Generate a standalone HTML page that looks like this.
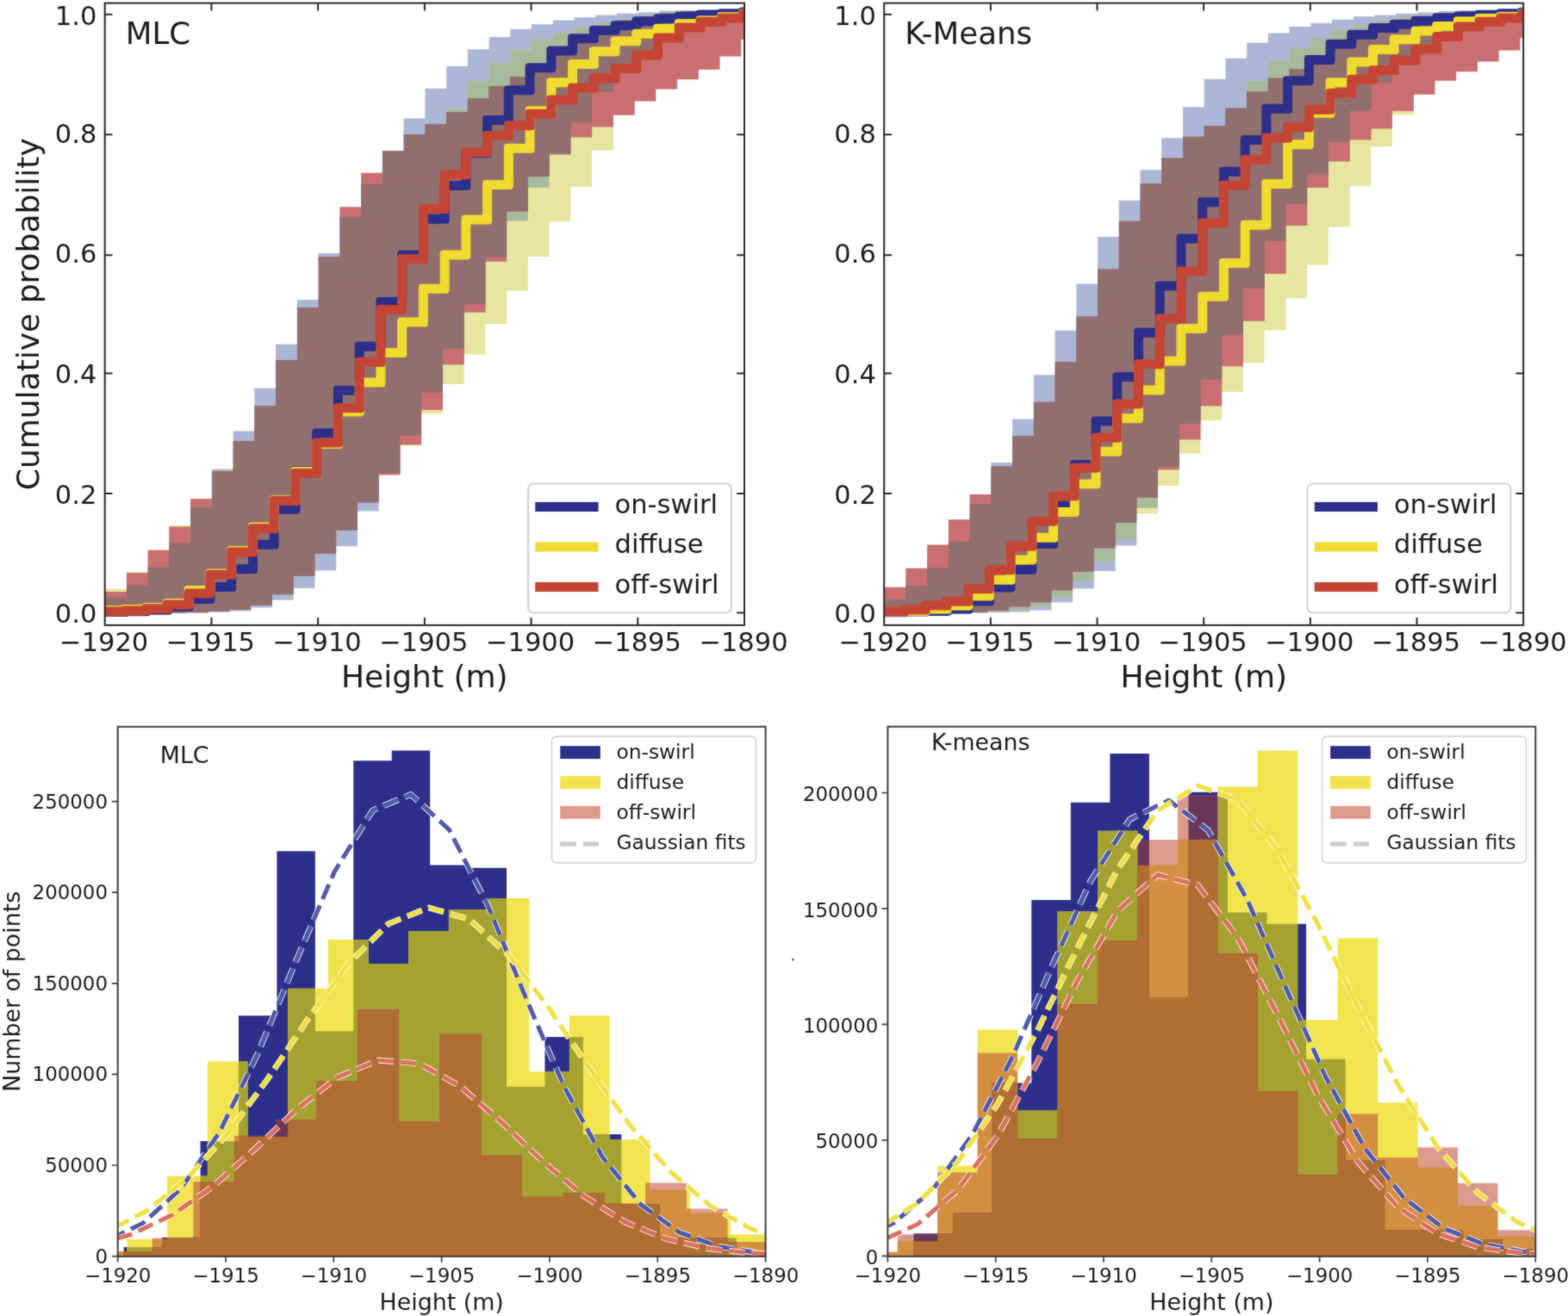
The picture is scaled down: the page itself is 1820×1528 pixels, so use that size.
<!DOCTYPE html>
<html lang="en"><head><meta charset="utf-8"><title>Height distributions: MLC and K-Means</title>
<style>html,body{margin:0;padding:0;background:#fff}body{width:1820px;height:1528px;overflow:hidden}svg{display:block}text{font-family:"DejaVu Sans", "Liberation Sans", sans-serif;fill:#1a1a1a}</style>
</head><body>
<svg xmlns="http://www.w3.org/2000/svg" width="1820" height="1528" viewBox="0 0 1820 1528">
<rect width="1820" height="1528" fill="#fff"/>
<filter id="soft" x="0" y="0" width="1820" height="1528" filterUnits="userSpaceOnUse" color-interpolation-filters="sRGB"><feGaussianBlur stdDeviation="0.8" result="b"/><feComposite in="SourceGraphic" in2="b" operator="arithmetic" k1="0" k2="0.58" k3="0.42" k4="0"/></filter>
<g filter="url(#soft)">
<rect width="1820" height="1528" fill="#fff"/>
<clipPath id="ct0"><rect x="121.7" y="3.6" width="742.3" height="722.3"/></clipPath>
<clipPath id="cb0"><path d="M-149.98 710.09 L-125.24 710.09 L-125.24 710.08 L-100.5 710.08 L-100.5 710.06 L-75.75 710.06 L-75.75 710.01 L-51.01 710.01 L-51.01 709.93 L-26.27 709.93 L-26.27 709.79 L-1.52 709.79 L-1.52 709.53 L23.22 709.53 L23.22 709.05 L47.96 709.05 L47.96 708.34 L72.71 708.34 L72.71 706.83 L97.45 706.83 L97.45 702.77 L122.19 702.77 L122.19 693.78 L146.94 693.78 L146.94 679.81 L171.68 679.81 L171.68 658.81 L196.42 658.81 L196.42 630.06 L221.17 630.06 L221.17 588.99 L245.91 588.99 L245.91 544.52 L270.65 544.52 L270.65 500.61 L295.4 500.61 L295.4 450.76 L320.14 450.76 L320.14 399.87 L344.88 399.87 L344.88 348.04 L369.63 348.04 L369.63 293.94 L394.37 293.94 L394.37 252.03 L419.11 252.03 L419.11 213.4 L443.86 213.4 L443.86 175.59 L468.6 175.59 L468.6 137.43 L493.34 137.43 L493.34 102.86 L518.09 102.86 L518.09 76.98 L542.83 76.98 L542.83 57.22 L567.57 57.22 L567.57 43.07 L592.32 43.07 L592.32 33.63 L617.06 33.63 L617.06 28.22 L641.8 28.22 L641.8 23.39 L666.55 23.39 L666.55 20.2 L691.29 20.2 L691.29 17.57 L716.03 17.57 L716.03 15.57 L740.78 15.57 L740.78 14.24 L765.52 14.24 L765.52 12.59 L790.26 12.59 L790.26 11.94 L815.01 11.94 L815.01 11.67 L839.75 11.67 L839.75 11.57 L864.49 11.57 L864.49 11.52 L889.24 11.52 L889.24 11.51 L913.98 11.51 L913.98 11.5 L938.72 11.5 L1132.47 13.93 L1107.72 13.93 L1107.72 13.94 L1082.98 13.94 L1082.98 13.96 L1058.24 13.96 L1058.24 14 L1033.49 14 L1033.49 14.11 L1008.75 14.11 L1008.75 14.39 L984.01 14.39 L984.01 15.09 L959.26 15.09 L959.26 16.75 L934.52 16.75 L934.52 18.09 L909.78 18.09 L909.78 20.12 L885.03 20.12 L885.03 22.78 L860.29 22.78 L860.29 26.03 L835.55 26.03 L835.55 30.91 L810.8 30.91 L810.8 36.45 L786.06 36.45 L786.06 46.12 L761.32 46.12 L761.32 60.53 L736.57 60.53 L736.57 80.59 L711.83 80.59 L711.83 106.85 L687.09 106.85 L687.09 141.7 L662.34 141.7 L662.34 179.92 L637.6 179.92 L637.6 217.75 L612.86 217.75 L612.86 256.49 L588.11 256.49 L588.11 298.84 L563.37 298.84 L563.37 353.11 L538.63 353.11 L538.63 404.86 L513.88 404.86 L513.88 455.71 L489.14 455.71 L489.14 505.36 L464.4 505.36 L464.4 549.16 L439.65 549.16 L439.65 593.54 L414.91 593.54 L414.91 634.17 L390.17 634.17 L390.17 662.43 L365.42 662.43 L365.42 683.07 L340.68 683.07 L340.68 696.75 L315.94 696.75 L315.94 705.5 L291.19 705.5 L291.19 709.39 L266.45 709.39 L266.45 710.83 L241.71 710.83 L241.71 711.51 L216.96 711.51 L216.96 711.98 L192.22 711.98 L192.22 712.23 L167.48 712.23 L167.48 712.37 L142.73 712.37 L142.73 712.45 L117.99 712.45 L117.99 712.49 L93.25 712.49 L93.25 712.51 L68.5 712.51 L68.5 712.53 L43.76 712.53 Z"/></clipPath>
<clipPath id="cy0"><path d="M-149.98 710.07 L-125.24 710.07 L-125.24 710.03 L-100.5 710.03 L-100.5 709.97 L-75.75 709.97 L-75.75 709.85 L-51.01 709.85 L-51.01 709.64 L-26.27 709.64 L-26.27 709.26 L-1.52 709.26 L-1.52 708.56 L23.22 708.56 L23.22 707.31 L47.96 707.31 L47.96 706.17 L72.71 706.17 L72.71 703.96 L97.45 703.96 L97.45 698.69 L122.19 698.69 L122.19 683.66 L146.94 683.66 L146.94 664.06 L171.68 664.06 L171.68 637.63 L196.42 637.63 L196.42 610.1 L221.17 610.1 L221.17 578.78 L245.91 578.78 L245.91 545.45 L270.65 545.45 L270.65 513.37 L295.4 513.37 L295.4 475.91 L320.14 475.91 L320.14 441.85 L344.88 441.85 L344.88 407.35 L369.63 407.35 L369.63 371.78 L394.37 371.78 L394.37 333.19 L419.11 333.19 L419.11 293.68 L443.86 293.68 L443.86 252.89 L468.6 252.89 L468.6 212.34 L493.34 212.34 L493.34 169.92 L518.09 169.92 L518.09 126.69 L542.83 126.69 L542.83 93.91 L567.57 93.91 L567.57 72.71 L592.32 72.71 L592.32 58.24 L617.06 58.24 L617.06 46.22 L641.8 46.22 L641.8 37.78 L666.55 37.78 L666.55 31.68 L691.29 31.68 L691.29 26.01 L716.03 26.01 L716.03 22.19 L740.78 22.19 L740.78 18.03 L765.52 18.03 L765.52 14.61 L790.26 14.61 L790.26 13.24 L815.01 13.24 L815.01 12.69 L839.75 12.69 L839.75 12.48 L864.49 12.48 L864.49 12.39 L889.24 12.39 L889.24 12.35 L913.98 12.35 L913.98 12.34 L938.72 12.34 L1132.47 14.77 L1107.72 14.77 L1107.72 14.79 L1082.98 14.79 L1082.98 14.82 L1058.24 14.82 L1058.24 14.92 L1033.49 14.92 L1033.49 15.15 L1008.75 15.15 L1008.75 15.73 L984.01 15.73 L984.01 17.17 L959.26 17.17 L959.26 20.66 L934.52 20.66 L934.52 24.82 L909.78 24.82 L909.78 28.69 L885.03 28.69 L885.03 34.41 L860.29 34.41 L860.29 40.59 L835.55 40.59 L835.55 49.18 L810.8 49.18 L810.8 61.35 L786.06 61.35 L786.06 76.08 L761.32 76.08 L761.32 97.76 L736.57 97.76 L736.57 131.09 L711.83 131.09 L711.83 174.49 L687.09 174.49 L687.09 216.83 L662.34 216.83 L662.34 257.36 L637.6 257.36 L637.6 298.12 L612.86 298.12 L612.86 337.57 L588.11 337.57 L588.11 376.05 L563.37 376.05 L563.37 411.53 L538.63 411.53 L538.63 445.99 L513.88 445.99 L513.88 480.15 L489.14 480.15 L489.14 517.51 L464.4 517.51 L464.4 549.52 L439.65 549.52 L439.65 582.82 L414.91 582.82 L414.91 613.98 L390.17 613.98 L390.17 641.4 L365.42 641.4 L365.42 667.6 L340.68 667.6 L340.68 686.93 L315.94 686.93 L315.94 701.57 L291.19 701.57 L291.19 706.56 L266.45 706.56 L266.45 708.68 L241.71 708.68 L241.71 709.8 L216.96 709.8 L216.96 711.03 L192.22 711.03 L192.22 711.71 L167.48 711.71 L167.48 712.09 L142.73 712.09 L142.73 712.29 L117.99 712.29 L117.99 712.4 L93.25 712.4 L93.25 712.47 L68.5 712.47 L68.5 712.5 L43.76 712.5 Z"/></clipPath>
<g clip-path="url(#ct0)">
<path d="M-149.98 710.09 L-125.24 710.09 L-125.24 710.08 L-100.5 710.08 L-100.5 710.06 L-75.75 710.06 L-75.75 710.01 L-51.01 710.01 L-51.01 709.93 L-26.27 709.93 L-26.27 709.79 L-1.52 709.79 L-1.52 709.53 L23.22 709.53 L23.22 709.05 L47.96 709.05 L47.96 708.34 L72.71 708.34 L72.71 706.83 L97.45 706.83 L97.45 702.77 L122.19 702.77 L122.19 693.78 L146.94 693.78 L146.94 679.81 L171.68 679.81 L171.68 658.81 L196.42 658.81 L196.42 630.06 L221.17 630.06 L221.17 588.99 L245.91 588.99 L245.91 544.52 L270.65 544.52 L270.65 500.61 L295.4 500.61 L295.4 450.76 L320.14 450.76 L320.14 399.87 L344.88 399.87 L344.88 348.04 L369.63 348.04 L369.63 293.94 L394.37 293.94 L394.37 252.03 L419.11 252.03 L419.11 213.4 L443.86 213.4 L443.86 175.59 L468.6 175.59 L468.6 137.43 L493.34 137.43 L493.34 102.86 L518.09 102.86 L518.09 76.98 L542.83 76.98 L542.83 57.22 L567.57 57.22 L567.57 43.07 L592.32 43.07 L592.32 33.63 L617.06 33.63 L617.06 28.22 L641.8 28.22 L641.8 23.39 L666.55 23.39 L666.55 20.2 L691.29 20.2 L691.29 17.57 L716.03 17.57 L716.03 15.57 L740.78 15.57 L740.78 14.24 L765.52 14.24 L765.52 12.59 L790.26 12.59 L790.26 11.94 L815.01 11.94 L815.01 11.67 L839.75 11.67 L839.75 11.57 L864.49 11.57 L864.49 11.52 L889.24 11.52 L889.24 11.51 L913.98 11.51 L913.98 11.5 L938.72 11.5 L1132.47 13.93 L1107.72 13.93 L1107.72 13.94 L1082.98 13.94 L1082.98 13.96 L1058.24 13.96 L1058.24 14 L1033.49 14 L1033.49 14.11 L1008.75 14.11 L1008.75 14.39 L984.01 14.39 L984.01 15.09 L959.26 15.09 L959.26 16.75 L934.52 16.75 L934.52 18.09 L909.78 18.09 L909.78 20.12 L885.03 20.12 L885.03 22.78 L860.29 22.78 L860.29 26.03 L835.55 26.03 L835.55 30.91 L810.8 30.91 L810.8 36.45 L786.06 36.45 L786.06 46.12 L761.32 46.12 L761.32 60.53 L736.57 60.53 L736.57 80.59 L711.83 80.59 L711.83 106.85 L687.09 106.85 L687.09 141.7 L662.34 141.7 L662.34 179.92 L637.6 179.92 L637.6 217.75 L612.86 217.75 L612.86 256.49 L588.11 256.49 L588.11 298.84 L563.37 298.84 L563.37 353.11 L538.63 353.11 L538.63 404.86 L513.88 404.86 L513.88 455.71 L489.14 455.71 L489.14 505.36 L464.4 505.36 L464.4 549.16 L439.65 549.16 L439.65 593.54 L414.91 593.54 L414.91 634.17 L390.17 634.17 L390.17 662.43 L365.42 662.43 L365.42 683.07 L340.68 683.07 L340.68 696.75 L315.94 696.75 L315.94 705.5 L291.19 705.5 L291.19 709.39 L266.45 709.39 L266.45 710.83 L241.71 710.83 L241.71 711.51 L216.96 711.51 L216.96 711.98 L192.22 711.98 L192.22 712.23 L167.48 712.23 L167.48 712.37 L142.73 712.37 L142.73 712.45 L117.99 712.45 L117.99 712.49 L93.25 712.49 L93.25 712.51 L68.5 712.51 L68.5 712.53 L43.76 712.53 Z" fill="#aab7d7"/>
<path d="M-149.98 710.07 L-125.24 710.07 L-125.24 710.03 L-100.5 710.03 L-100.5 709.97 L-75.75 709.97 L-75.75 709.85 L-51.01 709.85 L-51.01 709.64 L-26.27 709.64 L-26.27 709.26 L-1.52 709.26 L-1.52 708.56 L23.22 708.56 L23.22 707.31 L47.96 707.31 L47.96 706.17 L72.71 706.17 L72.71 703.96 L97.45 703.96 L97.45 698.69 L122.19 698.69 L122.19 683.66 L146.94 683.66 L146.94 664.06 L171.68 664.06 L171.68 637.63 L196.42 637.63 L196.42 610.1 L221.17 610.1 L221.17 578.78 L245.91 578.78 L245.91 545.45 L270.65 545.45 L270.65 513.37 L295.4 513.37 L295.4 475.91 L320.14 475.91 L320.14 441.85 L344.88 441.85 L344.88 407.35 L369.63 407.35 L369.63 371.78 L394.37 371.78 L394.37 333.19 L419.11 333.19 L419.11 293.68 L443.86 293.68 L443.86 252.89 L468.6 252.89 L468.6 212.34 L493.34 212.34 L493.34 169.92 L518.09 169.92 L518.09 126.69 L542.83 126.69 L542.83 93.91 L567.57 93.91 L567.57 72.71 L592.32 72.71 L592.32 58.24 L617.06 58.24 L617.06 46.22 L641.8 46.22 L641.8 37.78 L666.55 37.78 L666.55 31.68 L691.29 31.68 L691.29 26.01 L716.03 26.01 L716.03 22.19 L740.78 22.19 L740.78 18.03 L765.52 18.03 L765.52 14.61 L790.26 14.61 L790.26 13.24 L815.01 13.24 L815.01 12.69 L839.75 12.69 L839.75 12.48 L864.49 12.48 L864.49 12.39 L889.24 12.39 L889.24 12.35 L913.98 12.35 L913.98 12.34 L938.72 12.34 L1132.47 14.77 L1107.72 14.77 L1107.72 14.79 L1082.98 14.79 L1082.98 14.82 L1058.24 14.82 L1058.24 14.92 L1033.49 14.92 L1033.49 15.15 L1008.75 15.15 L1008.75 15.73 L984.01 15.73 L984.01 17.17 L959.26 17.17 L959.26 20.66 L934.52 20.66 L934.52 24.82 L909.78 24.82 L909.78 28.69 L885.03 28.69 L885.03 34.41 L860.29 34.41 L860.29 40.59 L835.55 40.59 L835.55 49.18 L810.8 49.18 L810.8 61.35 L786.06 61.35 L786.06 76.08 L761.32 76.08 L761.32 97.76 L736.57 97.76 L736.57 131.09 L711.83 131.09 L711.83 174.49 L687.09 174.49 L687.09 216.83 L662.34 216.83 L662.34 257.36 L637.6 257.36 L637.6 298.12 L612.86 298.12 L612.86 337.57 L588.11 337.57 L588.11 376.05 L563.37 376.05 L563.37 411.53 L538.63 411.53 L538.63 445.99 L513.88 445.99 L513.88 480.15 L489.14 480.15 L489.14 517.51 L464.4 517.51 L464.4 549.52 L439.65 549.52 L439.65 582.82 L414.91 582.82 L414.91 613.98 L390.17 613.98 L390.17 641.4 L365.42 641.4 L365.42 667.6 L340.68 667.6 L340.68 686.93 L315.94 686.93 L315.94 701.57 L291.19 701.57 L291.19 706.56 L266.45 706.56 L266.45 708.68 L241.71 708.68 L241.71 709.8 L216.96 709.8 L216.96 711.03 L192.22 711.03 L192.22 711.71 L167.48 711.71 L167.48 712.09 L142.73 712.09 L142.73 712.29 L117.99 712.29 L117.99 712.4 L93.25 712.4 L93.25 712.47 L68.5 712.47 L68.5 712.5 L43.76 712.5 Z" fill="#e6e6a0"/>
<g clip-path="url(#cb0)"><path d="M-149.98 710.07 L-125.24 710.07 L-125.24 710.03 L-100.5 710.03 L-100.5 709.97 L-75.75 709.97 L-75.75 709.85 L-51.01 709.85 L-51.01 709.64 L-26.27 709.64 L-26.27 709.26 L-1.52 709.26 L-1.52 708.56 L23.22 708.56 L23.22 707.31 L47.96 707.31 L47.96 706.17 L72.71 706.17 L72.71 703.96 L97.45 703.96 L97.45 698.69 L122.19 698.69 L122.19 683.66 L146.94 683.66 L146.94 664.06 L171.68 664.06 L171.68 637.63 L196.42 637.63 L196.42 610.1 L221.17 610.1 L221.17 578.78 L245.91 578.78 L245.91 545.45 L270.65 545.45 L270.65 513.37 L295.4 513.37 L295.4 475.91 L320.14 475.91 L320.14 441.85 L344.88 441.85 L344.88 407.35 L369.63 407.35 L369.63 371.78 L394.37 371.78 L394.37 333.19 L419.11 333.19 L419.11 293.68 L443.86 293.68 L443.86 252.89 L468.6 252.89 L468.6 212.34 L493.34 212.34 L493.34 169.92 L518.09 169.92 L518.09 126.69 L542.83 126.69 L542.83 93.91 L567.57 93.91 L567.57 72.71 L592.32 72.71 L592.32 58.24 L617.06 58.24 L617.06 46.22 L641.8 46.22 L641.8 37.78 L666.55 37.78 L666.55 31.68 L691.29 31.68 L691.29 26.01 L716.03 26.01 L716.03 22.19 L740.78 22.19 L740.78 18.03 L765.52 18.03 L765.52 14.61 L790.26 14.61 L790.26 13.24 L815.01 13.24 L815.01 12.69 L839.75 12.69 L839.75 12.48 L864.49 12.48 L864.49 12.39 L889.24 12.39 L889.24 12.35 L913.98 12.35 L913.98 12.34 L938.72 12.34 L1132.47 14.77 L1107.72 14.77 L1107.72 14.79 L1082.98 14.79 L1082.98 14.82 L1058.24 14.82 L1058.24 14.92 L1033.49 14.92 L1033.49 15.15 L1008.75 15.15 L1008.75 15.73 L984.01 15.73 L984.01 17.17 L959.26 17.17 L959.26 20.66 L934.52 20.66 L934.52 24.82 L909.78 24.82 L909.78 28.69 L885.03 28.69 L885.03 34.41 L860.29 34.41 L860.29 40.59 L835.55 40.59 L835.55 49.18 L810.8 49.18 L810.8 61.35 L786.06 61.35 L786.06 76.08 L761.32 76.08 L761.32 97.76 L736.57 97.76 L736.57 131.09 L711.83 131.09 L711.83 174.49 L687.09 174.49 L687.09 216.83 L662.34 216.83 L662.34 257.36 L637.6 257.36 L637.6 298.12 L612.86 298.12 L612.86 337.57 L588.11 337.57 L588.11 376.05 L563.37 376.05 L563.37 411.53 L538.63 411.53 L538.63 445.99 L513.88 445.99 L513.88 480.15 L489.14 480.15 L489.14 517.51 L464.4 517.51 L464.4 549.52 L439.65 549.52 L439.65 582.82 L414.91 582.82 L414.91 613.98 L390.17 613.98 L390.17 641.4 L365.42 641.4 L365.42 667.6 L340.68 667.6 L340.68 686.93 L315.94 686.93 L315.94 701.57 L291.19 701.57 L291.19 706.56 L266.45 706.56 L266.45 708.68 L241.71 708.68 L241.71 709.8 L216.96 709.8 L216.96 711.03 L192.22 711.03 L192.22 711.71 L167.48 711.71 L167.48 712.09 L142.73 712.09 L142.73 712.29 L117.99 712.29 L117.99 712.4 L93.25 712.4 L93.25 712.47 L68.5 712.47 L68.5 712.5 L43.76 712.5 Z" fill="#a8ba9c"/></g>
<path d="M-149.98 710.09 L-125.24 710.09 L-125.24 710.07 L-100.5 710.07 L-100.5 710.04 L-75.75 710.04 L-75.75 709.98 L-51.01 709.98 L-51.01 709.87 L-26.27 709.87 L-26.27 709.68 L-1.52 709.68 L-1.52 709.33 L23.22 709.33 L23.22 708.7 L47.96 708.7 L47.96 707.56 L72.71 707.56 L72.71 705.35 L97.45 705.35 L97.45 700.26 L122.19 700.26 L122.19 687.09 L146.94 687.09 L146.94 665.45 L171.68 665.45 L171.68 639.03 L196.42 639.03 L196.42 611.82 L221.17 611.82 L221.17 579.51 L245.91 579.51 L245.91 547.47 L270.65 547.47 L270.65 511.92 L295.4 511.92 L295.4 471.36 L320.14 471.36 L320.14 417.96 L344.88 417.96 L344.88 357.05 L369.63 357.05 L369.63 298.2 L394.37 298.2 L394.37 240.33 L419.11 240.33 L419.11 200.85 L443.86 200.85 L443.86 174.93 L468.6 174.93 L468.6 155.96 L493.34 155.96 L493.34 144.11 L518.09 144.11 L518.09 130.5 L542.83 130.5 L542.83 114.22 L567.57 114.22 L567.57 100.37 L592.32 100.37 L592.32 89.25 L617.06 89.25 L617.06 77.7 L641.8 77.7 L641.8 62.32 L666.55 62.32 L666.55 42.39 L691.29 42.39 L691.29 30.41 L716.03 30.41 L716.03 23.85 L740.78 23.85 L740.78 19.4 L765.52 19.4 L765.52 15.16 L790.26 15.16 L790.26 13.46 L815.01 13.46 L815.01 12.78 L839.75 12.78 L839.75 12.51 L864.49 12.51 L864.49 12.4 L889.24 12.4 L889.24 12.36 L913.98 12.36 L913.98 12.34 L938.72 12.34 L1132.47 14.77 L1107.72 14.77 L1107.72 14.79 L1082.98 14.79 L1082.98 14.84 L1058.24 14.84 L1058.24 14.95 L1033.49 14.95 L1033.49 15.24 L1008.75 15.24 L1008.75 15.96 L984.01 15.96 L984.01 17.75 L959.26 17.75 L959.26 22.05 L934.52 22.05 L934.52 26.57 L909.78 26.57 L909.78 33.33 L885.03 33.33 L885.03 45.67 L860.29 45.67 L860.29 65.61 L835.55 65.61 L835.55 80.78 L810.8 80.78 L810.8 92.24 L786.06 92.24 L786.06 103.44 L761.32 103.44 L761.32 117.42 L736.57 117.42 L736.57 133.67 L711.83 133.67 L711.83 147.17 L687.09 147.17 L687.09 159.2 L662.34 159.2 L662.34 178.52 L637.6 178.52 L637.6 205 L612.86 205 L612.86 245.3 L588.11 245.3 L588.11 303.56 L563.37 303.56 L563.37 362.49 L538.63 362.49 L538.63 423.21 L513.88 423.21 L513.88 476.06 L489.14 476.06 L489.14 516.23 L464.4 516.23 L464.4 551.57 L439.65 551.57 L439.65 583.55 L414.91 583.55 L414.91 615.71 L390.17 615.71 L390.17 642.79 L365.42 642.79 L365.42 669.06 L340.68 669.06 L340.68 690.34 L315.94 690.34 L315.94 703.1 L291.19 703.1 L291.19 707.95 L266.45 707.95 L266.45 710.07 L241.71 710.07 L241.71 711.17 L216.96 711.17 L216.96 711.79 L192.22 711.79 L192.22 712.13 L167.48 712.13 L167.48 712.31 L142.73 712.31 L142.73 712.42 L117.99 712.42 L117.99 712.47 L93.25 712.47 L93.25 712.5 L68.5 712.5 L68.5 712.52 L43.76 712.52 Z" fill="#c96f71"/>
<g clip-path="url(#cy0)"><path d="M-149.98 710.09 L-125.24 710.09 L-125.24 710.07 L-100.5 710.07 L-100.5 710.04 L-75.75 710.04 L-75.75 709.98 L-51.01 709.98 L-51.01 709.87 L-26.27 709.87 L-26.27 709.68 L-1.52 709.68 L-1.52 709.33 L23.22 709.33 L23.22 708.7 L47.96 708.7 L47.96 707.56 L72.71 707.56 L72.71 705.35 L97.45 705.35 L97.45 700.26 L122.19 700.26 L122.19 687.09 L146.94 687.09 L146.94 665.45 L171.68 665.45 L171.68 639.03 L196.42 639.03 L196.42 611.82 L221.17 611.82 L221.17 579.51 L245.91 579.51 L245.91 547.47 L270.65 547.47 L270.65 511.92 L295.4 511.92 L295.4 471.36 L320.14 471.36 L320.14 417.96 L344.88 417.96 L344.88 357.05 L369.63 357.05 L369.63 298.2 L394.37 298.2 L394.37 240.33 L419.11 240.33 L419.11 200.85 L443.86 200.85 L443.86 174.93 L468.6 174.93 L468.6 155.96 L493.34 155.96 L493.34 144.11 L518.09 144.11 L518.09 130.5 L542.83 130.5 L542.83 114.22 L567.57 114.22 L567.57 100.37 L592.32 100.37 L592.32 89.25 L617.06 89.25 L617.06 77.7 L641.8 77.7 L641.8 62.32 L666.55 62.32 L666.55 42.39 L691.29 42.39 L691.29 30.41 L716.03 30.41 L716.03 23.85 L740.78 23.85 L740.78 19.4 L765.52 19.4 L765.52 15.16 L790.26 15.16 L790.26 13.46 L815.01 13.46 L815.01 12.78 L839.75 12.78 L839.75 12.51 L864.49 12.51 L864.49 12.4 L889.24 12.4 L889.24 12.36 L913.98 12.36 L913.98 12.34 L938.72 12.34 L1132.47 14.77 L1107.72 14.77 L1107.72 14.79 L1082.98 14.79 L1082.98 14.84 L1058.24 14.84 L1058.24 14.95 L1033.49 14.95 L1033.49 15.24 L1008.75 15.24 L1008.75 15.96 L984.01 15.96 L984.01 17.75 L959.26 17.75 L959.26 22.05 L934.52 22.05 L934.52 26.57 L909.78 26.57 L909.78 33.33 L885.03 33.33 L885.03 45.67 L860.29 45.67 L860.29 65.61 L835.55 65.61 L835.55 80.78 L810.8 80.78 L810.8 92.24 L786.06 92.24 L786.06 103.44 L761.32 103.44 L761.32 117.42 L736.57 117.42 L736.57 133.67 L711.83 133.67 L711.83 147.17 L687.09 147.17 L687.09 159.2 L662.34 159.2 L662.34 178.52 L637.6 178.52 L637.6 205 L612.86 205 L612.86 245.3 L588.11 245.3 L588.11 303.56 L563.37 303.56 L563.37 362.49 L538.63 362.49 L538.63 423.21 L513.88 423.21 L513.88 476.06 L489.14 476.06 L489.14 516.23 L464.4 516.23 L464.4 551.57 L439.65 551.57 L439.65 583.55 L414.91 583.55 L414.91 615.71 L390.17 615.71 L390.17 642.79 L365.42 642.79 L365.42 669.06 L340.68 669.06 L340.68 690.34 L315.94 690.34 L315.94 703.1 L291.19 703.1 L291.19 707.95 L266.45 707.95 L266.45 710.07 L241.71 710.07 L241.71 711.17 L216.96 711.17 L216.96 711.79 L192.22 711.79 L192.22 712.13 L167.48 712.13 L167.48 712.31 L142.73 712.31 L142.73 712.42 L117.99 712.42 L117.99 712.47 L93.25 712.47 L93.25 712.5 L68.5 712.5 L68.5 712.52 L43.76 712.52 Z" fill="#c96f71"/></g>
<g clip-path="url(#cb0)"><path d="M-149.98 710.09 L-125.24 710.09 L-125.24 710.07 L-100.5 710.07 L-100.5 710.04 L-75.75 710.04 L-75.75 709.98 L-51.01 709.98 L-51.01 709.87 L-26.27 709.87 L-26.27 709.68 L-1.52 709.68 L-1.52 709.33 L23.22 709.33 L23.22 708.7 L47.96 708.7 L47.96 707.56 L72.71 707.56 L72.71 705.35 L97.45 705.35 L97.45 700.26 L122.19 700.26 L122.19 687.09 L146.94 687.09 L146.94 665.45 L171.68 665.45 L171.68 639.03 L196.42 639.03 L196.42 611.82 L221.17 611.82 L221.17 579.51 L245.91 579.51 L245.91 547.47 L270.65 547.47 L270.65 511.92 L295.4 511.92 L295.4 471.36 L320.14 471.36 L320.14 417.96 L344.88 417.96 L344.88 357.05 L369.63 357.05 L369.63 298.2 L394.37 298.2 L394.37 240.33 L419.11 240.33 L419.11 200.85 L443.86 200.85 L443.86 174.93 L468.6 174.93 L468.6 155.96 L493.34 155.96 L493.34 144.11 L518.09 144.11 L518.09 130.5 L542.83 130.5 L542.83 114.22 L567.57 114.22 L567.57 100.37 L592.32 100.37 L592.32 89.25 L617.06 89.25 L617.06 77.7 L641.8 77.7 L641.8 62.32 L666.55 62.32 L666.55 42.39 L691.29 42.39 L691.29 30.41 L716.03 30.41 L716.03 23.85 L740.78 23.85 L740.78 19.4 L765.52 19.4 L765.52 15.16 L790.26 15.16 L790.26 13.46 L815.01 13.46 L815.01 12.78 L839.75 12.78 L839.75 12.51 L864.49 12.51 L864.49 12.4 L889.24 12.4 L889.24 12.36 L913.98 12.36 L913.98 12.34 L938.72 12.34 L1132.47 14.77 L1107.72 14.77 L1107.72 14.79 L1082.98 14.79 L1082.98 14.84 L1058.24 14.84 L1058.24 14.95 L1033.49 14.95 L1033.49 15.24 L1008.75 15.24 L1008.75 15.96 L984.01 15.96 L984.01 17.75 L959.26 17.75 L959.26 22.05 L934.52 22.05 L934.52 26.57 L909.78 26.57 L909.78 33.33 L885.03 33.33 L885.03 45.67 L860.29 45.67 L860.29 65.61 L835.55 65.61 L835.55 80.78 L810.8 80.78 L810.8 92.24 L786.06 92.24 L786.06 103.44 L761.32 103.44 L761.32 117.42 L736.57 117.42 L736.57 133.67 L711.83 133.67 L711.83 147.17 L687.09 147.17 L687.09 159.2 L662.34 159.2 L662.34 178.52 L637.6 178.52 L637.6 205 L612.86 205 L612.86 245.3 L588.11 245.3 L588.11 303.56 L563.37 303.56 L563.37 362.49 L538.63 362.49 L538.63 423.21 L513.88 423.21 L513.88 476.06 L489.14 476.06 L489.14 516.23 L464.4 516.23 L464.4 551.57 L439.65 551.57 L439.65 583.55 L414.91 583.55 L414.91 615.71 L390.17 615.71 L390.17 642.79 L365.42 642.79 L365.42 669.06 L340.68 669.06 L340.68 690.34 L315.94 690.34 L315.94 703.1 L291.19 703.1 L291.19 707.95 L266.45 707.95 L266.45 710.07 L241.71 710.07 L241.71 711.17 L216.96 711.17 L216.96 711.79 L192.22 711.79 L192.22 712.13 L167.48 712.13 L167.48 712.31 L142.73 712.31 L142.73 712.42 L117.99 712.42 L117.99 712.47 L93.25 712.47 L93.25 712.5 L68.5 712.5 L68.5 712.52 L43.76 712.52 Z" fill="#926f6f"/>
<g clip-path="url(#cy0)"><path d="M-149.98 710.09 L-125.24 710.09 L-125.24 710.07 L-100.5 710.07 L-100.5 710.04 L-75.75 710.04 L-75.75 709.98 L-51.01 709.98 L-51.01 709.87 L-26.27 709.87 L-26.27 709.68 L-1.52 709.68 L-1.52 709.33 L23.22 709.33 L23.22 708.7 L47.96 708.7 L47.96 707.56 L72.71 707.56 L72.71 705.35 L97.45 705.35 L97.45 700.26 L122.19 700.26 L122.19 687.09 L146.94 687.09 L146.94 665.45 L171.68 665.45 L171.68 639.03 L196.42 639.03 L196.42 611.82 L221.17 611.82 L221.17 579.51 L245.91 579.51 L245.91 547.47 L270.65 547.47 L270.65 511.92 L295.4 511.92 L295.4 471.36 L320.14 471.36 L320.14 417.96 L344.88 417.96 L344.88 357.05 L369.63 357.05 L369.63 298.2 L394.37 298.2 L394.37 240.33 L419.11 240.33 L419.11 200.85 L443.86 200.85 L443.86 174.93 L468.6 174.93 L468.6 155.96 L493.34 155.96 L493.34 144.11 L518.09 144.11 L518.09 130.5 L542.83 130.5 L542.83 114.22 L567.57 114.22 L567.57 100.37 L592.32 100.37 L592.32 89.25 L617.06 89.25 L617.06 77.7 L641.8 77.7 L641.8 62.32 L666.55 62.32 L666.55 42.39 L691.29 42.39 L691.29 30.41 L716.03 30.41 L716.03 23.85 L740.78 23.85 L740.78 19.4 L765.52 19.4 L765.52 15.16 L790.26 15.16 L790.26 13.46 L815.01 13.46 L815.01 12.78 L839.75 12.78 L839.75 12.51 L864.49 12.51 L864.49 12.4 L889.24 12.4 L889.24 12.36 L913.98 12.36 L913.98 12.34 L938.72 12.34 L1132.47 14.77 L1107.72 14.77 L1107.72 14.79 L1082.98 14.79 L1082.98 14.84 L1058.24 14.84 L1058.24 14.95 L1033.49 14.95 L1033.49 15.24 L1008.75 15.24 L1008.75 15.96 L984.01 15.96 L984.01 17.75 L959.26 17.75 L959.26 22.05 L934.52 22.05 L934.52 26.57 L909.78 26.57 L909.78 33.33 L885.03 33.33 L885.03 45.67 L860.29 45.67 L860.29 65.61 L835.55 65.61 L835.55 80.78 L810.8 80.78 L810.8 92.24 L786.06 92.24 L786.06 103.44 L761.32 103.44 L761.32 117.42 L736.57 117.42 L736.57 133.67 L711.83 133.67 L711.83 147.17 L687.09 147.17 L687.09 159.2 L662.34 159.2 L662.34 178.52 L637.6 178.52 L637.6 205 L612.86 205 L612.86 245.3 L588.11 245.3 L588.11 303.56 L563.37 303.56 L563.37 362.49 L538.63 362.49 L538.63 423.21 L513.88 423.21 L513.88 476.06 L489.14 476.06 L489.14 516.23 L464.4 516.23 L464.4 551.57 L439.65 551.57 L439.65 583.55 L414.91 583.55 L414.91 615.71 L390.17 615.71 L390.17 642.79 L365.42 642.79 L365.42 669.06 L340.68 669.06 L340.68 690.34 L315.94 690.34 L315.94 703.1 L291.19 703.1 L291.19 707.95 L266.45 707.95 L266.45 710.07 L241.71 710.07 L241.71 711.17 L216.96 711.17 L216.96 711.79 L192.22 711.79 L192.22 712.13 L167.48 712.13 L167.48 712.31 L142.73 712.31 L142.73 712.42 L117.99 712.42 L117.99 712.47 L93.25 712.47 L93.25 712.5 L68.5 712.5 L68.5 712.52 L43.76 712.52 Z" fill="#926f6f"/></g></g>
<path d="M245.42 725.9 v-8.8 M245.42 3.6 v8.8 M369.13 725.9 v-8.8 M369.13 3.6 v8.8 M492.85 725.9 v-8.8 M492.85 3.6 v8.8 M616.57 725.9 v-8.8 M616.57 3.6 v8.8 M740.28 725.9 v-8.8 M740.28 3.6 v8.8 M121.7 711.4 h8.8 M864 711.4 h-8.8 M121.7 573.1 h8.8 M864 573.1 h-8.8 M121.7 433.6 h8.8 M864 433.6 h-8.8 M121.7 296.3 h8.8 M864 296.3 h-8.8 M121.7 156.3 h8.8 M864 156.3 h-8.8 M121.7 16.7 h8.8 M864 16.7 h-8.8" stroke="#262626" stroke-width="2" fill="none"/>
<path d="M93.77 709.48 L70.73 709.48 L70.73 712.88 L97.17 712.88 L97.17 712.63 L121.92 712.63 L121.92 712.16 L146.66 712.16 L146.66 711.46 L171.4 711.46 L171.4 710 L196.15 710 L196.15 706.04 L220.89 706.04 L220.89 697.15 L245.63 697.15 L245.63 683.32 L270.38 683.32 L270.38 662.46 L295.12 662.46 L295.12 633.97 L319.86 633.97 L319.86 592.96 L344.61 592.96 L344.61 548.48 L369.35 548.48 L369.35 504.7 L394.09 504.7 L394.09 454.87 L418.84 454.87 L418.84 403.99 L443.58 403.99 L443.58 352.22 L468.32 352.22 L468.32 297.87 L493.07 297.87 L493.07 255.89 L517.81 255.89 L517.81 217.25 L542.55 217.25 L542.55 179.44 L567.3 179.44 L567.3 141.21 L592.04 141.21 L592.04 106.46 L616.78 106.46 L616.78 80.47 L641.53 80.47 L641.53 60.59 L666.27 60.59 L666.27 46.35 L691.01 46.35 L691.01 36.83 L715.76 36.83 L715.76 31.41 L740.5 31.41 L740.5 26.54 L765.24 26.54 L765.24 23.34 L789.99 23.34 L789.99 20.7 L814.73 20.7 L814.73 18.69 L839.47 18.69 L839.47 17.37 L864.22 17.37 L864.22 15.7 L888.96 15.7 L888.96 15.03 L912 15.03 L912 11.63 L885.56 11.63 L885.56 12.3 L860.82 12.3 L860.82 13.97 L836.07 13.97 L836.07 15.29 L811.33 15.29 L811.33 17.3 L786.59 17.3 L786.59 19.94 L761.84 19.94 L761.84 23.14 L737.1 23.14 L737.1 28.01 L712.36 28.01 L712.36 33.43 L687.61 33.43 L687.61 42.95 L662.87 42.95 L662.87 57.19 L638.13 57.19 L638.13 77.07 L613.38 77.07 L613.38 103.06 L588.64 103.06 L588.64 137.81 L563.9 137.81 L563.9 176.04 L539.15 176.04 L539.15 213.85 L514.41 213.85 L514.41 252.49 L489.67 252.49 L489.67 294.47 L464.92 294.47 L464.92 348.82 L440.18 348.82 L440.18 400.59 L415.44 400.59 L415.44 451.47 L390.69 451.47 L390.69 501.3 L365.95 501.3 L365.95 545.08 L341.21 545.08 L341.21 589.56 L316.46 589.56 L316.46 630.57 L291.72 630.57 L291.72 659.06 L266.98 659.06 L266.98 679.92 L242.23 679.92 L242.23 693.75 L217.49 693.75 L217.49 702.64 L192.75 702.64 L192.75 706.6 L168 706.6 L168 708.06 L143.26 708.06 L143.26 708.76 L118.52 708.76 L118.52 709.23 L93.77 709.23 Z" fill="#2b2f8a" stroke="#2b2f8a" stroke-width="7.6" stroke-linejoin="round"/>
<path d="M93.77 708.96 L70.73 708.96 L70.73 712.36 L97.17 712.36 L97.17 711.67 L121.92 711.67 L121.92 710.42 L146.66 710.42 L146.66 709.31 L171.4 709.31 L171.4 707.15 L196.15 707.15 L196.15 702.08 L220.89 702.08 L220.89 687.14 L245.63 687.14 L245.63 667.68 L270.38 667.68 L270.38 641.27 L295.12 641.27 L295.12 613.82 L319.86 613.82 L319.86 582.54 L344.61 582.54 L344.61 549.18 L369.35 549.18 L369.35 517.21 L394.09 517.21 L394.09 479.68 L418.84 479.68 L418.84 445.63 L443.58 445.63 L443.58 411.15 L468.32 411.15 L468.32 375.64 L493.07 375.64 L493.07 337.07 L517.81 337.07 L517.81 297.59 L542.55 297.59 L542.55 256.79 L567.3 256.79 L567.3 216.28 L592.04 216.28 L592.04 173.88 L616.78 173.88 L616.78 130.44 L641.53 130.44 L641.53 97.43 L666.27 97.43 L666.27 76.09 L691.01 76.09 L691.01 61.57 L715.76 61.57 L715.76 49.47 L740.5 49.47 L740.5 41 L765.24 41 L765.24 34.88 L789.99 34.88 L789.99 29.18 L814.73 29.18 L814.73 25.36 L839.47 25.36 L839.47 21.19 L864.22 21.19 L864.22 17.73 L888.96 17.73 L888.96 16.34 L912 16.34 L912 12.94 L885.56 12.94 L885.56 14.33 L860.82 14.33 L860.82 17.79 L836.07 17.79 L836.07 21.96 L811.33 21.96 L811.33 25.78 L786.59 25.78 L786.59 31.48 L761.84 31.48 L761.84 37.6 L737.1 37.6 L737.1 46.07 L712.36 46.07 L712.36 58.17 L687.61 58.17 L687.61 72.69 L662.87 72.69 L662.87 94.03 L638.13 94.03 L638.13 127.04 L613.38 127.04 L613.38 170.48 L588.64 170.48 L588.64 212.88 L563.9 212.88 L563.9 253.39 L539.15 253.39 L539.15 294.19 L514.41 294.19 L514.41 333.67 L489.67 333.67 L489.67 372.24 L464.92 372.24 L464.92 407.75 L440.18 407.75 L440.18 442.23 L415.44 442.23 L415.44 476.28 L390.69 476.28 L390.69 513.81 L365.95 513.81 L365.95 545.78 L341.21 545.78 L341.21 579.14 L316.46 579.14 L316.46 610.42 L291.72 610.42 L291.72 637.87 L266.98 637.87 L266.98 664.28 L242.23 664.28 L242.23 683.74 L217.49 683.74 L217.49 698.68 L192.75 698.68 L192.75 703.75 L168 703.75 L168 705.91 L143.26 705.91 L143.26 707.02 L118.52 707.02 L118.52 708.27 L93.77 708.27 Z" fill="#f0dc2e" stroke="#f0dc2e" stroke-width="7.6" stroke-linejoin="round"/>
<path d="M93.77 709.38 L70.73 709.38 L70.73 712.78 L97.17 712.78 L97.17 712.44 L121.92 712.44 L121.92 711.81 L146.66 711.81 L146.66 710.7 L171.4 710.7 L171.4 708.54 L196.15 708.54 L196.15 703.61 L220.89 703.61 L220.89 690.61 L245.63 690.61 L245.63 669.07 L270.38 669.07 L270.38 642.66 L295.12 642.66 L295.12 615.55 L319.86 615.55 L319.86 583.23 L344.61 583.23 L344.61 551.27 L369.35 551.27 L369.35 515.82 L394.09 515.82 L394.09 475.51 L418.84 475.51 L418.84 422.27 L443.58 422.27 L443.58 361.32 L468.32 361.32 L468.32 302.45 L493.07 302.45 L493.07 244.21 L517.81 244.21 L517.81 204.46 L542.55 204.46 L542.55 178.4 L567.3 178.4 L567.3 159.28 L592.04 159.28 L592.04 147.47 L616.78 147.47 L616.78 133.92 L641.53 133.92 L641.53 117.58 L666.27 117.58 L666.27 103.69 L691.01 103.69 L691.01 92.57 L715.76 92.57 L715.76 81.1 L740.5 81.1 L740.5 65.81 L765.24 65.81 L765.24 45.72 L789.99 45.72 L789.99 33.63 L814.73 33.63 L814.73 27.03 L839.47 27.03 L839.47 22.58 L864.22 22.58 L864.22 18.28 L888.96 18.28 L888.96 16.57 L912 16.57 L912 13.17 L885.56 13.17 L885.56 14.88 L860.82 14.88 L860.82 19.18 L836.07 19.18 L836.07 23.63 L811.33 23.63 L811.33 30.23 L786.59 30.23 L786.59 42.32 L761.84 42.32 L761.84 62.41 L737.1 62.41 L737.1 77.7 L712.36 77.7 L712.36 89.17 L687.61 89.17 L687.61 100.29 L662.87 100.29 L662.87 114.18 L638.13 114.18 L638.13 130.52 L613.38 130.52 L613.38 144.07 L588.64 144.07 L588.64 155.88 L563.9 155.88 L563.9 175 L539.15 175 L539.15 201.06 L514.41 201.06 L514.41 240.81 L489.67 240.81 L489.67 299.05 L464.92 299.05 L464.92 357.92 L440.18 357.92 L440.18 418.87 L415.44 418.87 L415.44 472.11 L390.69 472.11 L390.69 512.42 L365.95 512.42 L365.95 547.87 L341.21 547.87 L341.21 579.83 L316.46 579.83 L316.46 612.15 L291.72 612.15 L291.72 639.26 L266.98 639.26 L266.98 665.67 L242.23 665.67 L242.23 687.21 L217.49 687.21 L217.49 700.21 L192.75 700.21 L192.75 705.14 L168 705.14 L168 707.3 L143.26 707.3 L143.26 708.41 L118.52 708.41 L118.52 709.04 L93.77 709.04 Z" fill="#c54534" stroke="#c54534" stroke-width="7.6" stroke-linejoin="round"/>
</g>
<rect x="613" y="561.6" width="236" height="149.8" rx="6" ry="6" fill="#fff" fill-opacity="0.85" stroke="#cfcfcf" stroke-width="2"/>
<line x1="621.2" y1="588.6" x2="694.5" y2="588.6" stroke="#2b2f8a" stroke-width="11"/>
<text x="713.6" y="595.9" font-size="30.5">on-swirl</text>
<line x1="621.2" y1="635.1" x2="694.5" y2="635.1" stroke="#f0dc2e" stroke-width="11"/>
<text x="713.6" y="642.4" font-size="30.5">diffuse</text>
<line x1="621.2" y1="681.6" x2="694.5" y2="681.6" stroke="#c54534" stroke-width="11"/>
<text x="713.6" y="688.9" font-size="30.5">off-swirl</text>
<rect x="121.7" y="3.6" width="742.3" height="722.3" fill="none" stroke="#262626" stroke-width="2"/>
<text x="120.7" y="756.3" font-size="30.5" text-anchor="middle">−1920</text>
<text x="244.42" y="756.3" font-size="30.5" text-anchor="middle">−1915</text>
<text x="368.13" y="756.3" font-size="30.5" text-anchor="middle">−1910</text>
<text x="491.85" y="756.3" font-size="30.5" text-anchor="middle">−1905</text>
<text x="615.57" y="756.3" font-size="30.5" text-anchor="middle">−1900</text>
<text x="739.28" y="756.3" font-size="30.5" text-anchor="middle">−1895</text>
<text x="863" y="756.3" font-size="30.5" text-anchor="middle">−1890</text>
<text x="112.3" y="722.6" font-size="30.5" text-anchor="end">0.0</text>
<text x="112.3" y="585.1" font-size="30.5" text-anchor="end">0.2</text>
<text x="112.3" y="445.2" font-size="30.5" text-anchor="end">0.4</text>
<text x="112.3" y="305.2" font-size="30.5" text-anchor="end">0.6</text>
<text x="112.3" y="166.1" font-size="30.5" text-anchor="end">0.8</text>
<text x="112.3" y="28.6" font-size="30.5" text-anchor="end">1.0</text>
<text x="492.85" y="798" font-size="36" text-anchor="middle">Height (m)</text>
<text transform="translate(45.2 364.75) rotate(-90)" font-size="36" text-anchor="middle">Cumulative probability</text>
<text x="145.7" y="51.1" font-size="35.6">MLC</text>
<clipPath id="ct1"><rect x="1026.2" y="3.6" width="742" height="722.3"/></clipPath>
<clipPath id="cb1"><path d="M754.63 710.1 L779.36 710.1 L779.36 710.09 L804.09 710.09 L804.09 710.07 L828.83 710.07 L828.83 710.05 L853.56 710.05 L853.56 709.99 L878.29 709.99 L878.29 709.9 L903.03 709.9 L903.03 709.72 L927.76 709.72 L927.76 709.4 L952.49 709.4 L952.49 708.71 L977.23 708.71 L977.23 707.98 L1001.96 707.98 L1001.96 705.75 L1026.69 705.75 L1026.69 696.24 L1051.43 696.24 L1051.43 680.16 L1076.16 680.16 L1076.16 659.47 L1100.89 659.47 L1100.89 629.3 L1125.63 629.3 L1125.63 584.96 L1150.36 584.96 L1150.36 537.02 L1175.09 537.02 L1175.09 486.68 L1199.83 486.68 L1199.83 435.25 L1224.56 435.25 L1224.56 383.77 L1249.29 383.77 L1249.29 329.54 L1274.03 329.54 L1274.03 274.89 L1298.76 274.89 L1298.76 232.63 L1323.49 232.63 L1323.49 197.16 L1348.23 197.16 L1348.23 160.34 L1372.96 160.34 L1372.96 124.27 L1397.69 124.27 L1397.69 91.77 L1422.43 91.77 L1422.43 67.77 L1447.16 67.77 L1447.16 49.64 L1471.89 49.64 L1471.89 38.59 L1496.63 38.59 L1496.63 31.01 L1521.36 31.01 L1521.36 26.84 L1546.09 26.84 L1546.09 22.69 L1570.83 22.69 L1570.83 19.25 L1595.56 19.25 L1595.56 17.51 L1620.29 17.51 L1620.29 15.78 L1645.03 15.78 L1645.03 14.38 L1669.76 14.38 L1669.76 12.73 L1694.49 12.73 L1694.49 12.07 L1719.23 12.07 L1719.23 11.81 L1743.96 11.81 L1743.96 11.71 L1768.69 11.71 L1768.69 11.66 L1793.43 11.66 L1793.43 11.65 L1818.16 11.65 L1818.16 11.64 L1842.89 11.64 L2036.56 14.07 L2011.82 14.07 L2011.82 14.08 L1987.09 14.08 L1987.09 14.1 L1962.36 14.1 L1962.36 14.14 L1937.62 14.14 L1937.62 14.25 L1912.89 14.25 L1912.89 14.53 L1888.16 14.53 L1888.16 15.23 L1863.42 15.23 L1863.42 16.89 L1838.69 16.89 L1838.69 18.29 L1813.96 18.29 L1813.96 20.03 L1789.22 20.03 L1789.22 21.82 L1764.49 21.82 L1764.49 25.31 L1739.76 25.31 L1739.76 29.48 L1715.02 29.48 L1715.02 33.76 L1690.29 33.76 L1690.29 41.51 L1665.56 41.51 L1665.56 52.84 L1640.82 52.84 L1640.82 71.29 L1616.09 71.29 L1616.09 95.67 L1591.36 95.67 L1591.36 128.44 L1566.62 128.44 L1566.62 164.6 L1541.89 164.6 L1541.89 201.39 L1517.16 201.39 L1517.16 237.04 L1492.42 237.04 L1492.42 279.81 L1467.69 279.81 L1467.69 334.7 L1442.96 334.7 L1442.96 388.83 L1418.22 388.83 L1418.22 440.26 L1393.49 440.26 L1393.49 491.65 L1368.76 491.65 L1368.76 541.9 L1344.02 541.9 L1344.02 589.67 L1319.29 589.67 L1319.29 633.51 L1294.56 633.51 L1294.56 663.12 L1269.82 663.12 L1269.82 683.48 L1245.09 683.48 L1245.09 699.27 L1220.36 699.27 L1220.36 708.44 L1195.62 708.44 L1195.62 710.48 L1170.89 710.48 L1170.89 711.17 L1146.16 711.17 L1146.16 711.86 L1121.42 711.86 L1121.42 712.17 L1096.69 712.17 L1096.69 712.34 L1071.96 712.34 L1071.96 712.43 L1047.22 712.43 L1047.22 712.48 L1022.49 712.48 L1022.49 712.51 L997.76 712.51 L997.76 712.52 L973.02 712.52 L973.02 712.53 L948.29 712.53 Z"/></clipPath>
<clipPath id="cy1"><path d="M754.63 710.09 L779.36 710.09 L779.36 710.07 L804.09 710.07 L804.09 710.04 L828.83 710.04 L828.83 709.98 L853.56 709.98 L853.56 709.87 L878.29 709.87 L878.29 709.68 L903.03 709.68 L903.03 709.33 L927.76 709.33 L927.76 708.71 L952.49 708.71 L952.49 707.98 L977.23 707.98 L977.23 705.86 L1001.96 705.86 L1001.96 701.55 L1026.69 701.55 L1026.69 690.27 L1051.43 690.27 L1051.43 671.42 L1076.16 671.42 L1076.16 648.09 L1100.89 648.09 L1100.89 622.29 L1125.63 622.29 L1125.63 592.35 L1150.36 592.35 L1150.36 559.79 L1175.09 559.79 L1175.09 522.18 L1199.83 522.18 L1199.83 483.79 L1224.56 483.79 L1224.56 450.9 L1249.29 450.9 L1249.29 417.1 L1274.03 417.1 L1274.03 379.24 L1298.76 379.24 L1298.76 342.03 L1323.49 342.03 L1323.49 303.34 L1348.23 303.34 L1348.23 258.8 L1372.96 258.8 L1372.96 211.16 L1397.69 211.16 L1397.69 165.68 L1422.43 165.68 L1422.43 129.08 L1447.16 129.08 L1447.16 93.87 L1471.89 93.87 L1471.89 70.42 L1496.63 70.42 L1496.63 55.88 L1521.36 55.88 L1521.36 44.11 L1546.09 44.11 L1546.09 34.46 L1570.83 34.46 L1570.83 28.9 L1595.56 28.9 L1595.56 23.38 L1620.29 23.38 L1620.29 19.93 L1645.03 19.93 L1645.03 17.82 L1669.76 17.82 L1669.76 14.53 L1694.49 14.53 L1694.49 13.21 L1719.23 13.21 L1719.23 12.68 L1743.96 12.68 L1743.96 12.47 L1768.69 12.47 L1768.69 12.39 L1793.43 12.39 L1793.43 12.35 L1818.16 12.35 L1818.16 12.34 L1842.89 12.34 L2036.56 14.77 L2011.82 14.77 L2011.82 14.79 L1987.09 14.79 L1987.09 14.82 L1962.36 14.82 L1962.36 14.91 L1937.62 14.91 L1937.62 15.13 L1912.89 15.13 L1912.89 15.69 L1888.16 15.69 L1888.16 17.09 L1863.42 17.09 L1863.42 20.39 L1838.69 20.39 L1838.69 22.51 L1813.96 22.51 L1813.96 26.05 L1789.22 26.05 L1789.22 31.61 L1764.49 31.61 L1764.49 37.29 L1739.76 37.29 L1739.76 47.09 L1715.02 47.09 L1715.02 58.99 L1690.29 58.99 L1690.29 73.85 L1665.56 73.85 L1665.56 97.84 L1640.82 97.84 L1640.82 133.32 L1616.09 133.32 L1616.09 170.21 L1591.36 170.21 L1591.36 215.94 L1566.62 215.94 L1566.62 263.52 L1541.89 263.52 L1541.89 307.82 L1517.16 307.82 L1517.16 346.35 L1492.42 346.35 L1492.42 383.55 L1467.69 383.55 L1467.69 421.31 L1442.96 421.31 L1442.96 454.99 L1418.22 454.99 L1418.22 488.03 L1393.49 488.03 L1393.49 526.51 L1368.76 526.51 L1368.76 563.95 L1344.02 563.95 L1344.02 596.33 L1319.29 596.33 L1319.29 626.09 L1294.56 626.09 L1294.56 651.73 L1269.82 651.73 L1269.82 674.88 L1245.09 674.88 L1245.09 693.42 L1220.36 693.42 L1220.36 704.33 L1195.62 704.33 L1195.62 708.44 L1170.89 708.44 L1170.89 710.48 L1146.16 710.48 L1146.16 711.17 L1121.42 711.17 L1121.42 711.79 L1096.69 711.79 L1096.69 712.13 L1071.96 712.13 L1071.96 712.31 L1047.22 712.31 L1047.22 712.42 L1022.49 712.42 L1022.49 712.47 L997.76 712.47 L997.76 712.5 L973.02 712.5 L973.02 712.52 L948.29 712.52 Z"/></clipPath>
<g clip-path="url(#ct1)">
<path d="M754.63 710.1 L779.36 710.1 L779.36 710.09 L804.09 710.09 L804.09 710.07 L828.83 710.07 L828.83 710.05 L853.56 710.05 L853.56 709.99 L878.29 709.99 L878.29 709.9 L903.03 709.9 L903.03 709.72 L927.76 709.72 L927.76 709.4 L952.49 709.4 L952.49 708.71 L977.23 708.71 L977.23 707.98 L1001.96 707.98 L1001.96 705.75 L1026.69 705.75 L1026.69 696.24 L1051.43 696.24 L1051.43 680.16 L1076.16 680.16 L1076.16 659.47 L1100.89 659.47 L1100.89 629.3 L1125.63 629.3 L1125.63 584.96 L1150.36 584.96 L1150.36 537.02 L1175.09 537.02 L1175.09 486.68 L1199.83 486.68 L1199.83 435.25 L1224.56 435.25 L1224.56 383.77 L1249.29 383.77 L1249.29 329.54 L1274.03 329.54 L1274.03 274.89 L1298.76 274.89 L1298.76 232.63 L1323.49 232.63 L1323.49 197.16 L1348.23 197.16 L1348.23 160.34 L1372.96 160.34 L1372.96 124.27 L1397.69 124.27 L1397.69 91.77 L1422.43 91.77 L1422.43 67.77 L1447.16 67.77 L1447.16 49.64 L1471.89 49.64 L1471.89 38.59 L1496.63 38.59 L1496.63 31.01 L1521.36 31.01 L1521.36 26.84 L1546.09 26.84 L1546.09 22.69 L1570.83 22.69 L1570.83 19.25 L1595.56 19.25 L1595.56 17.51 L1620.29 17.51 L1620.29 15.78 L1645.03 15.78 L1645.03 14.38 L1669.76 14.38 L1669.76 12.73 L1694.49 12.73 L1694.49 12.07 L1719.23 12.07 L1719.23 11.81 L1743.96 11.81 L1743.96 11.71 L1768.69 11.71 L1768.69 11.66 L1793.43 11.66 L1793.43 11.65 L1818.16 11.65 L1818.16 11.64 L1842.89 11.64 L2036.56 14.07 L2011.82 14.07 L2011.82 14.08 L1987.09 14.08 L1987.09 14.1 L1962.36 14.1 L1962.36 14.14 L1937.62 14.14 L1937.62 14.25 L1912.89 14.25 L1912.89 14.53 L1888.16 14.53 L1888.16 15.23 L1863.42 15.23 L1863.42 16.89 L1838.69 16.89 L1838.69 18.29 L1813.96 18.29 L1813.96 20.03 L1789.22 20.03 L1789.22 21.82 L1764.49 21.82 L1764.49 25.31 L1739.76 25.31 L1739.76 29.48 L1715.02 29.48 L1715.02 33.76 L1690.29 33.76 L1690.29 41.51 L1665.56 41.51 L1665.56 52.84 L1640.82 52.84 L1640.82 71.29 L1616.09 71.29 L1616.09 95.67 L1591.36 95.67 L1591.36 128.44 L1566.62 128.44 L1566.62 164.6 L1541.89 164.6 L1541.89 201.39 L1517.16 201.39 L1517.16 237.04 L1492.42 237.04 L1492.42 279.81 L1467.69 279.81 L1467.69 334.7 L1442.96 334.7 L1442.96 388.83 L1418.22 388.83 L1418.22 440.26 L1393.49 440.26 L1393.49 491.65 L1368.76 491.65 L1368.76 541.9 L1344.02 541.9 L1344.02 589.67 L1319.29 589.67 L1319.29 633.51 L1294.56 633.51 L1294.56 663.12 L1269.82 663.12 L1269.82 683.48 L1245.09 683.48 L1245.09 699.27 L1220.36 699.27 L1220.36 708.44 L1195.62 708.44 L1195.62 710.48 L1170.89 710.48 L1170.89 711.17 L1146.16 711.17 L1146.16 711.86 L1121.42 711.86 L1121.42 712.17 L1096.69 712.17 L1096.69 712.34 L1071.96 712.34 L1071.96 712.43 L1047.22 712.43 L1047.22 712.48 L1022.49 712.48 L1022.49 712.51 L997.76 712.51 L997.76 712.52 L973.02 712.52 L973.02 712.53 L948.29 712.53 Z" fill="#aab7d7"/>
<path d="M754.63 710.09 L779.36 710.09 L779.36 710.07 L804.09 710.07 L804.09 710.04 L828.83 710.04 L828.83 709.98 L853.56 709.98 L853.56 709.87 L878.29 709.87 L878.29 709.68 L903.03 709.68 L903.03 709.33 L927.76 709.33 L927.76 708.71 L952.49 708.71 L952.49 707.98 L977.23 707.98 L977.23 705.86 L1001.96 705.86 L1001.96 701.55 L1026.69 701.55 L1026.69 690.27 L1051.43 690.27 L1051.43 671.42 L1076.16 671.42 L1076.16 648.09 L1100.89 648.09 L1100.89 622.29 L1125.63 622.29 L1125.63 592.35 L1150.36 592.35 L1150.36 559.79 L1175.09 559.79 L1175.09 522.18 L1199.83 522.18 L1199.83 483.79 L1224.56 483.79 L1224.56 450.9 L1249.29 450.9 L1249.29 417.1 L1274.03 417.1 L1274.03 379.24 L1298.76 379.24 L1298.76 342.03 L1323.49 342.03 L1323.49 303.34 L1348.23 303.34 L1348.23 258.8 L1372.96 258.8 L1372.96 211.16 L1397.69 211.16 L1397.69 165.68 L1422.43 165.68 L1422.43 129.08 L1447.16 129.08 L1447.16 93.87 L1471.89 93.87 L1471.89 70.42 L1496.63 70.42 L1496.63 55.88 L1521.36 55.88 L1521.36 44.11 L1546.09 44.11 L1546.09 34.46 L1570.83 34.46 L1570.83 28.9 L1595.56 28.9 L1595.56 23.38 L1620.29 23.38 L1620.29 19.93 L1645.03 19.93 L1645.03 17.82 L1669.76 17.82 L1669.76 14.53 L1694.49 14.53 L1694.49 13.21 L1719.23 13.21 L1719.23 12.68 L1743.96 12.68 L1743.96 12.47 L1768.69 12.47 L1768.69 12.39 L1793.43 12.39 L1793.43 12.35 L1818.16 12.35 L1818.16 12.34 L1842.89 12.34 L2036.56 14.77 L2011.82 14.77 L2011.82 14.79 L1987.09 14.79 L1987.09 14.82 L1962.36 14.82 L1962.36 14.91 L1937.62 14.91 L1937.62 15.13 L1912.89 15.13 L1912.89 15.69 L1888.16 15.69 L1888.16 17.09 L1863.42 17.09 L1863.42 20.39 L1838.69 20.39 L1838.69 22.51 L1813.96 22.51 L1813.96 26.05 L1789.22 26.05 L1789.22 31.61 L1764.49 31.61 L1764.49 37.29 L1739.76 37.29 L1739.76 47.09 L1715.02 47.09 L1715.02 58.99 L1690.29 58.99 L1690.29 73.85 L1665.56 73.85 L1665.56 97.84 L1640.82 97.84 L1640.82 133.32 L1616.09 133.32 L1616.09 170.21 L1591.36 170.21 L1591.36 215.94 L1566.62 215.94 L1566.62 263.52 L1541.89 263.52 L1541.89 307.82 L1517.16 307.82 L1517.16 346.35 L1492.42 346.35 L1492.42 383.55 L1467.69 383.55 L1467.69 421.31 L1442.96 421.31 L1442.96 454.99 L1418.22 454.99 L1418.22 488.03 L1393.49 488.03 L1393.49 526.51 L1368.76 526.51 L1368.76 563.95 L1344.02 563.95 L1344.02 596.33 L1319.29 596.33 L1319.29 626.09 L1294.56 626.09 L1294.56 651.73 L1269.82 651.73 L1269.82 674.88 L1245.09 674.88 L1245.09 693.42 L1220.36 693.42 L1220.36 704.33 L1195.62 704.33 L1195.62 708.44 L1170.89 708.44 L1170.89 710.48 L1146.16 710.48 L1146.16 711.17 L1121.42 711.17 L1121.42 711.79 L1096.69 711.79 L1096.69 712.13 L1071.96 712.13 L1071.96 712.31 L1047.22 712.31 L1047.22 712.42 L1022.49 712.42 L1022.49 712.47 L997.76 712.47 L997.76 712.5 L973.02 712.5 L973.02 712.52 L948.29 712.52 Z" fill="#e6e6a0"/>
<g clip-path="url(#cb1)"><path d="M754.63 710.09 L779.36 710.09 L779.36 710.07 L804.09 710.07 L804.09 710.04 L828.83 710.04 L828.83 709.98 L853.56 709.98 L853.56 709.87 L878.29 709.87 L878.29 709.68 L903.03 709.68 L903.03 709.33 L927.76 709.33 L927.76 708.71 L952.49 708.71 L952.49 707.98 L977.23 707.98 L977.23 705.86 L1001.96 705.86 L1001.96 701.55 L1026.69 701.55 L1026.69 690.27 L1051.43 690.27 L1051.43 671.42 L1076.16 671.42 L1076.16 648.09 L1100.89 648.09 L1100.89 622.29 L1125.63 622.29 L1125.63 592.35 L1150.36 592.35 L1150.36 559.79 L1175.09 559.79 L1175.09 522.18 L1199.83 522.18 L1199.83 483.79 L1224.56 483.79 L1224.56 450.9 L1249.29 450.9 L1249.29 417.1 L1274.03 417.1 L1274.03 379.24 L1298.76 379.24 L1298.76 342.03 L1323.49 342.03 L1323.49 303.34 L1348.23 303.34 L1348.23 258.8 L1372.96 258.8 L1372.96 211.16 L1397.69 211.16 L1397.69 165.68 L1422.43 165.68 L1422.43 129.08 L1447.16 129.08 L1447.16 93.87 L1471.89 93.87 L1471.89 70.42 L1496.63 70.42 L1496.63 55.88 L1521.36 55.88 L1521.36 44.11 L1546.09 44.11 L1546.09 34.46 L1570.83 34.46 L1570.83 28.9 L1595.56 28.9 L1595.56 23.38 L1620.29 23.38 L1620.29 19.93 L1645.03 19.93 L1645.03 17.82 L1669.76 17.82 L1669.76 14.53 L1694.49 14.53 L1694.49 13.21 L1719.23 13.21 L1719.23 12.68 L1743.96 12.68 L1743.96 12.47 L1768.69 12.47 L1768.69 12.39 L1793.43 12.39 L1793.43 12.35 L1818.16 12.35 L1818.16 12.34 L1842.89 12.34 L2036.56 14.77 L2011.82 14.77 L2011.82 14.79 L1987.09 14.79 L1987.09 14.82 L1962.36 14.82 L1962.36 14.91 L1937.62 14.91 L1937.62 15.13 L1912.89 15.13 L1912.89 15.69 L1888.16 15.69 L1888.16 17.09 L1863.42 17.09 L1863.42 20.39 L1838.69 20.39 L1838.69 22.51 L1813.96 22.51 L1813.96 26.05 L1789.22 26.05 L1789.22 31.61 L1764.49 31.61 L1764.49 37.29 L1739.76 37.29 L1739.76 47.09 L1715.02 47.09 L1715.02 58.99 L1690.29 58.99 L1690.29 73.85 L1665.56 73.85 L1665.56 97.84 L1640.82 97.84 L1640.82 133.32 L1616.09 133.32 L1616.09 170.21 L1591.36 170.21 L1591.36 215.94 L1566.62 215.94 L1566.62 263.52 L1541.89 263.52 L1541.89 307.82 L1517.16 307.82 L1517.16 346.35 L1492.42 346.35 L1492.42 383.55 L1467.69 383.55 L1467.69 421.31 L1442.96 421.31 L1442.96 454.99 L1418.22 454.99 L1418.22 488.03 L1393.49 488.03 L1393.49 526.51 L1368.76 526.51 L1368.76 563.95 L1344.02 563.95 L1344.02 596.33 L1319.29 596.33 L1319.29 626.09 L1294.56 626.09 L1294.56 651.73 L1269.82 651.73 L1269.82 674.88 L1245.09 674.88 L1245.09 693.42 L1220.36 693.42 L1220.36 704.33 L1195.62 704.33 L1195.62 708.44 L1170.89 708.44 L1170.89 710.48 L1146.16 710.48 L1146.16 711.17 L1121.42 711.17 L1121.42 711.79 L1096.69 711.79 L1096.69 712.13 L1071.96 712.13 L1071.96 712.31 L1047.22 712.31 L1047.22 712.42 L1022.49 712.42 L1022.49 712.47 L997.76 712.47 L997.76 712.5 L973.02 712.5 L973.02 712.52 L948.29 712.52 Z" fill="#a8ba9c"/></g>
<path d="M754.63 710.08 L779.36 710.08 L779.36 710.06 L804.09 710.06 L804.09 710.02 L828.83 710.02 L828.83 709.95 L853.56 709.95 L853.56 709.82 L878.29 709.82 L878.29 709.58 L903.03 709.58 L903.03 709.14 L927.76 709.14 L927.76 708.34 L952.49 708.34 L952.49 706.53 L977.23 706.53 L977.23 701.53 L1001.96 701.53 L1001.96 696.48 L1026.69 696.48 L1026.69 681.87 L1051.43 681.87 L1051.43 659.87 L1076.16 659.87 L1076.16 632.38 L1100.89 632.38 L1100.89 603.19 L1125.63 603.19 L1125.63 573.93 L1150.36 573.93 L1150.36 541.22 L1175.09 541.22 L1175.09 505.97 L1199.83 505.97 L1199.83 466.63 L1224.56 466.63 L1224.56 420.28 L1249.29 420.28 L1249.29 367.42 L1274.03 367.42 L1274.03 312.49 L1298.76 312.49 L1298.76 256.79 L1323.49 256.79 L1323.49 213.28 L1348.23 213.28 L1348.23 183.49 L1372.96 183.49 L1372.96 158.72 L1397.69 158.72 L1397.69 146.05 L1422.43 146.05 L1422.43 125.58 L1447.16 125.58 L1447.16 106.53 L1471.89 106.53 L1471.89 90.66 L1496.63 90.66 L1496.63 80.2 L1521.36 80.2 L1521.36 68.37 L1546.09 68.37 L1546.09 55.48 L1570.83 55.48 L1570.83 40.94 L1595.56 40.94 L1595.56 29.59 L1620.29 29.59 L1620.29 23.78 L1645.03 23.78 L1645.03 19.4 L1669.76 19.4 L1669.76 15.16 L1694.49 15.16 L1694.49 13.46 L1719.23 13.46 L1719.23 12.78 L1743.96 12.78 L1743.96 12.51 L1768.69 12.51 L1768.69 12.4 L1793.43 12.4 L1793.43 12.36 L1818.16 12.36 L1818.16 12.34 L1842.89 12.34 L2036.56 14.77 L2011.82 14.77 L2011.82 14.79 L1987.09 14.79 L1987.09 14.84 L1962.36 14.84 L1962.36 14.95 L1937.62 14.95 L1937.62 15.24 L1912.89 15.24 L1912.89 15.96 L1888.16 15.96 L1888.16 17.75 L1863.42 17.75 L1863.42 22.05 L1838.69 22.05 L1838.69 26.47 L1813.96 26.47 L1813.96 32.48 L1789.22 32.48 L1789.22 44.04 L1764.49 44.04 L1764.49 58.59 L1739.76 58.59 L1739.76 71.41 L1715.02 71.41 L1715.02 83.19 L1690.29 83.19 L1690.29 93.78 L1665.56 93.78 L1665.56 109.86 L1640.82 109.86 L1640.82 129.01 L1616.09 129.01 L1616.09 149.27 L1591.36 149.27 L1591.36 162.16 L1566.62 162.16 L1566.62 187.32 L1541.89 187.32 L1541.89 217.63 L1517.16 217.63 L1517.16 261.78 L1492.42 261.78 L1492.42 317.69 L1467.69 317.69 L1467.69 372.53 L1442.96 372.53 L1442.96 425.16 L1418.22 425.16 L1418.22 471.16 L1393.49 471.16 L1393.49 510.24 L1368.76 510.24 L1368.76 545.33 L1344.02 545.33 L1344.02 577.89 L1319.29 577.89 L1319.29 607.08 L1294.56 607.08 L1294.56 636.22 L1269.82 636.22 L1269.82 663.51 L1245.09 663.51 L1245.09 685.18 L1220.36 685.18 L1220.36 699.34 L1195.62 699.34 L1195.62 704.21 L1170.89 704.21 L1170.89 709.12 L1146.16 709.12 L1146.16 710.83 L1121.42 710.83 L1121.42 711.6 L1096.69 711.6 L1096.69 712.02 L1071.96 712.02 L1071.96 712.26 L1047.22 712.26 L1047.22 712.39 L1022.49 712.39 L1022.49 712.46 L997.76 712.46 L997.76 712.5 L973.02 712.5 L973.02 712.52 L948.29 712.52 Z" fill="#c96f71"/>
<g clip-path="url(#cy1)"><path d="M754.63 710.08 L779.36 710.08 L779.36 710.06 L804.09 710.06 L804.09 710.02 L828.83 710.02 L828.83 709.95 L853.56 709.95 L853.56 709.82 L878.29 709.82 L878.29 709.58 L903.03 709.58 L903.03 709.14 L927.76 709.14 L927.76 708.34 L952.49 708.34 L952.49 706.53 L977.23 706.53 L977.23 701.53 L1001.96 701.53 L1001.96 696.48 L1026.69 696.48 L1026.69 681.87 L1051.43 681.87 L1051.43 659.87 L1076.16 659.87 L1076.16 632.38 L1100.89 632.38 L1100.89 603.19 L1125.63 603.19 L1125.63 573.93 L1150.36 573.93 L1150.36 541.22 L1175.09 541.22 L1175.09 505.97 L1199.83 505.97 L1199.83 466.63 L1224.56 466.63 L1224.56 420.28 L1249.29 420.28 L1249.29 367.42 L1274.03 367.42 L1274.03 312.49 L1298.76 312.49 L1298.76 256.79 L1323.49 256.79 L1323.49 213.28 L1348.23 213.28 L1348.23 183.49 L1372.96 183.49 L1372.96 158.72 L1397.69 158.72 L1397.69 146.05 L1422.43 146.05 L1422.43 125.58 L1447.16 125.58 L1447.16 106.53 L1471.89 106.53 L1471.89 90.66 L1496.63 90.66 L1496.63 80.2 L1521.36 80.2 L1521.36 68.37 L1546.09 68.37 L1546.09 55.48 L1570.83 55.48 L1570.83 40.94 L1595.56 40.94 L1595.56 29.59 L1620.29 29.59 L1620.29 23.78 L1645.03 23.78 L1645.03 19.4 L1669.76 19.4 L1669.76 15.16 L1694.49 15.16 L1694.49 13.46 L1719.23 13.46 L1719.23 12.78 L1743.96 12.78 L1743.96 12.51 L1768.69 12.51 L1768.69 12.4 L1793.43 12.4 L1793.43 12.36 L1818.16 12.36 L1818.16 12.34 L1842.89 12.34 L2036.56 14.77 L2011.82 14.77 L2011.82 14.79 L1987.09 14.79 L1987.09 14.84 L1962.36 14.84 L1962.36 14.95 L1937.62 14.95 L1937.62 15.24 L1912.89 15.24 L1912.89 15.96 L1888.16 15.96 L1888.16 17.75 L1863.42 17.75 L1863.42 22.05 L1838.69 22.05 L1838.69 26.47 L1813.96 26.47 L1813.96 32.48 L1789.22 32.48 L1789.22 44.04 L1764.49 44.04 L1764.49 58.59 L1739.76 58.59 L1739.76 71.41 L1715.02 71.41 L1715.02 83.19 L1690.29 83.19 L1690.29 93.78 L1665.56 93.78 L1665.56 109.86 L1640.82 109.86 L1640.82 129.01 L1616.09 129.01 L1616.09 149.27 L1591.36 149.27 L1591.36 162.16 L1566.62 162.16 L1566.62 187.32 L1541.89 187.32 L1541.89 217.63 L1517.16 217.63 L1517.16 261.78 L1492.42 261.78 L1492.42 317.69 L1467.69 317.69 L1467.69 372.53 L1442.96 372.53 L1442.96 425.16 L1418.22 425.16 L1418.22 471.16 L1393.49 471.16 L1393.49 510.24 L1368.76 510.24 L1368.76 545.33 L1344.02 545.33 L1344.02 577.89 L1319.29 577.89 L1319.29 607.08 L1294.56 607.08 L1294.56 636.22 L1269.82 636.22 L1269.82 663.51 L1245.09 663.51 L1245.09 685.18 L1220.36 685.18 L1220.36 699.34 L1195.62 699.34 L1195.62 704.21 L1170.89 704.21 L1170.89 709.12 L1146.16 709.12 L1146.16 710.83 L1121.42 710.83 L1121.42 711.6 L1096.69 711.6 L1096.69 712.02 L1071.96 712.02 L1071.96 712.26 L1047.22 712.26 L1047.22 712.39 L1022.49 712.39 L1022.49 712.46 L997.76 712.46 L997.76 712.5 L973.02 712.5 L973.02 712.52 L948.29 712.52 Z" fill="#c96f71"/></g>
<g clip-path="url(#cb1)"><path d="M754.63 710.08 L779.36 710.08 L779.36 710.06 L804.09 710.06 L804.09 710.02 L828.83 710.02 L828.83 709.95 L853.56 709.95 L853.56 709.82 L878.29 709.82 L878.29 709.58 L903.03 709.58 L903.03 709.14 L927.76 709.14 L927.76 708.34 L952.49 708.34 L952.49 706.53 L977.23 706.53 L977.23 701.53 L1001.96 701.53 L1001.96 696.48 L1026.69 696.48 L1026.69 681.87 L1051.43 681.87 L1051.43 659.87 L1076.16 659.87 L1076.16 632.38 L1100.89 632.38 L1100.89 603.19 L1125.63 603.19 L1125.63 573.93 L1150.36 573.93 L1150.36 541.22 L1175.09 541.22 L1175.09 505.97 L1199.83 505.97 L1199.83 466.63 L1224.56 466.63 L1224.56 420.28 L1249.29 420.28 L1249.29 367.42 L1274.03 367.42 L1274.03 312.49 L1298.76 312.49 L1298.76 256.79 L1323.49 256.79 L1323.49 213.28 L1348.23 213.28 L1348.23 183.49 L1372.96 183.49 L1372.96 158.72 L1397.69 158.72 L1397.69 146.05 L1422.43 146.05 L1422.43 125.58 L1447.16 125.58 L1447.16 106.53 L1471.89 106.53 L1471.89 90.66 L1496.63 90.66 L1496.63 80.2 L1521.36 80.2 L1521.36 68.37 L1546.09 68.37 L1546.09 55.48 L1570.83 55.48 L1570.83 40.94 L1595.56 40.94 L1595.56 29.59 L1620.29 29.59 L1620.29 23.78 L1645.03 23.78 L1645.03 19.4 L1669.76 19.4 L1669.76 15.16 L1694.49 15.16 L1694.49 13.46 L1719.23 13.46 L1719.23 12.78 L1743.96 12.78 L1743.96 12.51 L1768.69 12.51 L1768.69 12.4 L1793.43 12.4 L1793.43 12.36 L1818.16 12.36 L1818.16 12.34 L1842.89 12.34 L2036.56 14.77 L2011.82 14.77 L2011.82 14.79 L1987.09 14.79 L1987.09 14.84 L1962.36 14.84 L1962.36 14.95 L1937.62 14.95 L1937.62 15.24 L1912.89 15.24 L1912.89 15.96 L1888.16 15.96 L1888.16 17.75 L1863.42 17.75 L1863.42 22.05 L1838.69 22.05 L1838.69 26.47 L1813.96 26.47 L1813.96 32.48 L1789.22 32.48 L1789.22 44.04 L1764.49 44.04 L1764.49 58.59 L1739.76 58.59 L1739.76 71.41 L1715.02 71.41 L1715.02 83.19 L1690.29 83.19 L1690.29 93.78 L1665.56 93.78 L1665.56 109.86 L1640.82 109.86 L1640.82 129.01 L1616.09 129.01 L1616.09 149.27 L1591.36 149.27 L1591.36 162.16 L1566.62 162.16 L1566.62 187.32 L1541.89 187.32 L1541.89 217.63 L1517.16 217.63 L1517.16 261.78 L1492.42 261.78 L1492.42 317.69 L1467.69 317.69 L1467.69 372.53 L1442.96 372.53 L1442.96 425.16 L1418.22 425.16 L1418.22 471.16 L1393.49 471.16 L1393.49 510.24 L1368.76 510.24 L1368.76 545.33 L1344.02 545.33 L1344.02 577.89 L1319.29 577.89 L1319.29 607.08 L1294.56 607.08 L1294.56 636.22 L1269.82 636.22 L1269.82 663.51 L1245.09 663.51 L1245.09 685.18 L1220.36 685.18 L1220.36 699.34 L1195.62 699.34 L1195.62 704.21 L1170.89 704.21 L1170.89 709.12 L1146.16 709.12 L1146.16 710.83 L1121.42 710.83 L1121.42 711.6 L1096.69 711.6 L1096.69 712.02 L1071.96 712.02 L1071.96 712.26 L1047.22 712.26 L1047.22 712.39 L1022.49 712.39 L1022.49 712.46 L997.76 712.46 L997.76 712.5 L973.02 712.5 L973.02 712.52 L948.29 712.52 Z" fill="#926f6f"/>
<g clip-path="url(#cy1)"><path d="M754.63 710.08 L779.36 710.08 L779.36 710.06 L804.09 710.06 L804.09 710.02 L828.83 710.02 L828.83 709.95 L853.56 709.95 L853.56 709.82 L878.29 709.82 L878.29 709.58 L903.03 709.58 L903.03 709.14 L927.76 709.14 L927.76 708.34 L952.49 708.34 L952.49 706.53 L977.23 706.53 L977.23 701.53 L1001.96 701.53 L1001.96 696.48 L1026.69 696.48 L1026.69 681.87 L1051.43 681.87 L1051.43 659.87 L1076.16 659.87 L1076.16 632.38 L1100.89 632.38 L1100.89 603.19 L1125.63 603.19 L1125.63 573.93 L1150.36 573.93 L1150.36 541.22 L1175.09 541.22 L1175.09 505.97 L1199.83 505.97 L1199.83 466.63 L1224.56 466.63 L1224.56 420.28 L1249.29 420.28 L1249.29 367.42 L1274.03 367.42 L1274.03 312.49 L1298.76 312.49 L1298.76 256.79 L1323.49 256.79 L1323.49 213.28 L1348.23 213.28 L1348.23 183.49 L1372.96 183.49 L1372.96 158.72 L1397.69 158.72 L1397.69 146.05 L1422.43 146.05 L1422.43 125.58 L1447.16 125.58 L1447.16 106.53 L1471.89 106.53 L1471.89 90.66 L1496.63 90.66 L1496.63 80.2 L1521.36 80.2 L1521.36 68.37 L1546.09 68.37 L1546.09 55.48 L1570.83 55.48 L1570.83 40.94 L1595.56 40.94 L1595.56 29.59 L1620.29 29.59 L1620.29 23.78 L1645.03 23.78 L1645.03 19.4 L1669.76 19.4 L1669.76 15.16 L1694.49 15.16 L1694.49 13.46 L1719.23 13.46 L1719.23 12.78 L1743.96 12.78 L1743.96 12.51 L1768.69 12.51 L1768.69 12.4 L1793.43 12.4 L1793.43 12.36 L1818.16 12.36 L1818.16 12.34 L1842.89 12.34 L2036.56 14.77 L2011.82 14.77 L2011.82 14.79 L1987.09 14.79 L1987.09 14.84 L1962.36 14.84 L1962.36 14.95 L1937.62 14.95 L1937.62 15.24 L1912.89 15.24 L1912.89 15.96 L1888.16 15.96 L1888.16 17.75 L1863.42 17.75 L1863.42 22.05 L1838.69 22.05 L1838.69 26.47 L1813.96 26.47 L1813.96 32.48 L1789.22 32.48 L1789.22 44.04 L1764.49 44.04 L1764.49 58.59 L1739.76 58.59 L1739.76 71.41 L1715.02 71.41 L1715.02 83.19 L1690.29 83.19 L1690.29 93.78 L1665.56 93.78 L1665.56 109.86 L1640.82 109.86 L1640.82 129.01 L1616.09 129.01 L1616.09 149.27 L1591.36 149.27 L1591.36 162.16 L1566.62 162.16 L1566.62 187.32 L1541.89 187.32 L1541.89 217.63 L1517.16 217.63 L1517.16 261.78 L1492.42 261.78 L1492.42 317.69 L1467.69 317.69 L1467.69 372.53 L1442.96 372.53 L1442.96 425.16 L1418.22 425.16 L1418.22 471.16 L1393.49 471.16 L1393.49 510.24 L1368.76 510.24 L1368.76 545.33 L1344.02 545.33 L1344.02 577.89 L1319.29 577.89 L1319.29 607.08 L1294.56 607.08 L1294.56 636.22 L1269.82 636.22 L1269.82 663.51 L1245.09 663.51 L1245.09 685.18 L1220.36 685.18 L1220.36 699.34 L1195.62 699.34 L1195.62 704.21 L1170.89 704.21 L1170.89 709.12 L1146.16 709.12 L1146.16 710.83 L1121.42 710.83 L1121.42 711.6 L1096.69 711.6 L1096.69 712.02 L1071.96 712.02 L1071.96 712.26 L1047.22 712.26 L1047.22 712.39 L1022.49 712.39 L1022.49 712.46 L997.76 712.46 L997.76 712.5 L973.02 712.5 L973.02 712.52 L948.29 712.52 Z" fill="#926f6f"/></g></g>
<path d="M1149.87 725.9 v-8.8 M1149.87 3.6 v8.8 M1273.53 725.9 v-8.8 M1273.53 3.6 v8.8 M1397.2 725.9 v-8.8 M1397.2 3.6 v8.8 M1520.87 725.9 v-8.8 M1520.87 3.6 v8.8 M1644.53 725.9 v-8.8 M1644.53 3.6 v8.8 M1026.2 711.4 h8.8 M1768.2 711.4 h-8.8 M1026.2 573.1 h8.8 M1768.2 573.1 h-8.8 M1026.2 433.6 h8.8 M1768.2 433.6 h-8.8 M1026.2 296.3 h8.8 M1768.2 296.3 h-8.8 M1026.2 156.3 h8.8 M1768.2 156.3 h-8.8 M1026.2 16.7 h8.8 M1768.2 16.7 h-8.8" stroke="#262626" stroke-width="2" fill="none"/>
<path d="M998.28 709.59 L975.25 709.59 L975.25 712.99 L1001.68 712.99 L1001.68 712.82 L1026.42 712.82 L1026.42 712.5 L1051.15 712.5 L1051.15 711.81 L1075.88 711.81 L1075.88 711.11 L1100.62 711.11 L1100.62 709.03 L1125.35 709.03 L1125.35 699.65 L1150.08 699.65 L1150.08 683.66 L1174.82 683.66 L1174.82 663.16 L1199.55 663.16 L1199.55 633.28 L1224.28 633.28 L1224.28 589 L1249.02 589 L1249.02 541.12 L1273.75 541.12 L1273.75 490.8 L1298.48 490.8 L1298.48 439.37 L1323.22 439.37 L1323.22 387.94 L1347.95 387.94 L1347.95 333.73 L1372.68 333.73 L1372.68 278.82 L1397.42 278.82 L1397.42 236.43 L1422.15 236.43 L1422.15 200.98 L1446.88 200.98 L1446.88 164.15 L1471.62 164.15 L1471.62 128.01 L1496.35 128.01 L1496.35 95.34 L1521.08 95.34 L1521.08 71.23 L1545.82 71.23 L1545.82 52.95 L1570.55 52.95 L1570.55 41.83 L1595.28 41.83 L1595.28 34.19 L1620.02 34.19 L1620.02 30.02 L1644.75 30.02 L1644.75 25.84 L1669.48 25.84 L1669.48 22.37 L1694.22 22.37 L1694.22 20.63 L1718.95 20.63 L1718.95 18.9 L1743.68 18.9 L1743.68 17.51 L1768.42 17.51 L1768.42 15.84 L1793.15 15.84 L1793.15 15.17 L1816.18 15.17 L1816.18 11.77 L1789.75 11.77 L1789.75 12.44 L1765.02 12.44 L1765.02 14.11 L1740.28 14.11 L1740.28 15.5 L1715.55 15.5 L1715.55 17.23 L1690.82 17.23 L1690.82 18.97 L1666.08 18.97 L1666.08 22.44 L1641.35 22.44 L1641.35 26.62 L1616.62 26.62 L1616.62 30.79 L1591.88 30.79 L1591.88 38.43 L1567.15 38.43 L1567.15 49.55 L1542.42 49.55 L1542.42 67.83 L1517.68 67.83 L1517.68 91.94 L1492.95 91.94 L1492.95 124.61 L1468.22 124.61 L1468.22 160.75 L1443.48 160.75 L1443.48 197.58 L1418.75 197.58 L1418.75 233.03 L1394.02 233.03 L1394.02 275.42 L1369.28 275.42 L1369.28 330.33 L1344.55 330.33 L1344.55 384.54 L1319.82 384.54 L1319.82 435.97 L1295.08 435.97 L1295.08 487.4 L1270.35 487.4 L1270.35 537.72 L1245.62 537.72 L1245.62 585.6 L1220.88 585.6 L1220.88 629.88 L1196.15 629.88 L1196.15 659.76 L1171.42 659.76 L1171.42 680.26 L1146.68 680.26 L1146.68 696.25 L1121.95 696.25 L1121.95 705.63 L1097.22 705.63 L1097.22 707.71 L1072.48 707.71 L1072.48 708.41 L1047.75 708.41 L1047.75 709.1 L1023.02 709.1 L1023.02 709.42 L998.28 709.42 Z" fill="#2b2f8a" stroke="#2b2f8a" stroke-width="7.6" stroke-linejoin="round"/>
<path d="M998.28 709.38 L975.25 709.38 L975.25 712.78 L1001.68 712.78 L1001.68 712.44 L1026.42 712.44 L1026.42 711.81 L1051.15 711.81 L1051.15 711.11 L1075.88 711.11 L1075.88 709.03 L1100.62 709.03 L1100.62 704.86 L1125.35 704.86 L1125.35 693.74 L1150.08 693.74 L1150.08 674.97 L1174.82 674.97 L1174.82 651.69 L1199.55 651.69 L1199.55 625.98 L1224.28 625.98 L1224.28 596.09 L1249.02 596.09 L1249.02 563.64 L1273.75 563.64 L1273.75 526.04 L1298.48 526.04 L1298.48 487.53 L1323.22 487.53 L1323.22 454.66 L1347.95 454.66 L1347.95 420.95 L1372.68 420.95 L1372.68 383.08 L1397.42 383.08 L1397.42 345.89 L1422.15 345.89 L1422.15 307.32 L1446.88 307.32 L1446.88 262.84 L1471.62 262.84 L1471.62 215.16 L1496.35 215.16 L1496.35 169.5 L1521.08 169.5 L1521.08 132.88 L1545.82 132.88 L1545.82 97.43 L1570.55 97.43 L1570.55 73.8 L1595.28 73.8 L1595.28 59.2 L1620.02 59.2 L1620.02 47.39 L1644.75 47.39 L1644.75 37.66 L1669.48 37.66 L1669.48 32.1 L1694.22 32.1 L1694.22 26.54 L1718.95 26.54 L1718.95 23.07 L1743.68 23.07 L1743.68 20.98 L1768.42 20.98 L1768.42 17.64 L1793.15 17.64 L1793.15 16.31 L1816.18 16.31 L1816.18 12.91 L1789.75 12.91 L1789.75 14.24 L1765.02 14.24 L1765.02 17.58 L1740.28 17.58 L1740.28 19.67 L1715.55 19.67 L1715.55 23.14 L1690.82 23.14 L1690.82 28.7 L1666.08 28.7 L1666.08 34.26 L1641.35 34.26 L1641.35 43.99 L1616.62 43.99 L1616.62 55.8 L1591.88 55.8 L1591.88 70.4 L1567.15 70.4 L1567.15 94.03 L1542.42 94.03 L1542.42 129.48 L1517.68 129.48 L1517.68 166.1 L1492.95 166.1 L1492.95 211.76 L1468.22 211.76 L1468.22 259.44 L1443.48 259.44 L1443.48 303.92 L1418.75 303.92 L1418.75 342.49 L1394.02 342.49 L1394.02 379.68 L1369.28 379.68 L1369.28 417.55 L1344.55 417.55 L1344.55 451.26 L1319.82 451.26 L1319.82 484.13 L1295.08 484.13 L1295.08 522.64 L1270.35 522.64 L1270.35 560.24 L1245.62 560.24 L1245.62 592.69 L1220.88 592.69 L1220.88 622.58 L1196.15 622.58 L1196.15 648.29 L1171.42 648.29 L1171.42 671.57 L1146.68 671.57 L1146.68 690.34 L1121.95 690.34 L1121.95 701.46 L1097.22 701.46 L1097.22 705.63 L1072.48 705.63 L1072.48 707.71 L1047.75 707.71 L1047.75 708.41 L1023.02 708.41 L1023.02 709.04 L998.28 709.04 Z" fill="#f0dc2e" stroke="#f0dc2e" stroke-width="7.6" stroke-linejoin="round"/>
<path d="M998.28 709.27 L975.25 709.27 L975.25 712.67 L1001.68 712.67 L1001.68 712.24 L1026.42 712.24 L1026.42 711.46 L1051.15 711.46 L1051.15 709.72 L1075.88 709.72 L1075.88 704.72 L1100.62 704.72 L1100.62 699.86 L1125.35 699.86 L1125.35 685.4 L1150.08 685.4 L1150.08 663.51 L1174.82 663.51 L1174.82 636.06 L1199.55 636.06 L1199.55 606.86 L1224.28 606.86 L1224.28 577.68 L1249.02 577.68 L1249.02 545.01 L1273.75 545.01 L1273.75 509.84 L1298.48 509.84 L1298.48 470.65 L1323.22 470.65 L1323.22 424.43 L1347.95 424.43 L1347.95 371.61 L1372.68 371.61 L1372.68 316.7 L1397.42 316.7 L1397.42 260.76 L1422.15 260.76 L1422.15 216.97 L1446.88 216.97 L1446.88 187.08 L1471.62 187.08 L1471.62 162.07 L1496.35 162.07 L1496.35 149.56 L1521.08 149.56 L1521.08 129.05 L1545.82 129.05 L1545.82 109.94 L1570.55 109.94 L1570.55 93.95 L1595.28 93.95 L1595.28 83.53 L1620.02 83.53 L1620.02 71.71 L1644.75 71.71 L1644.75 58.86 L1669.48 58.86 L1669.48 44.26 L1694.22 44.26 L1694.22 32.8 L1718.95 32.8 L1718.95 26.96 L1743.68 26.96 L1743.68 22.58 L1768.42 22.58 L1768.42 18.28 L1793.15 18.28 L1793.15 16.57 L1816.18 16.57 L1816.18 13.17 L1789.75 13.17 L1789.75 14.88 L1765.02 14.88 L1765.02 19.18 L1740.28 19.18 L1740.28 23.56 L1715.55 23.56 L1715.55 29.4 L1690.82 29.4 L1690.82 40.86 L1666.08 40.86 L1666.08 55.46 L1641.35 55.46 L1641.35 68.31 L1616.62 68.31 L1616.62 80.13 L1591.88 80.13 L1591.88 90.55 L1567.15 90.55 L1567.15 106.54 L1542.42 106.54 L1542.42 125.65 L1517.68 125.65 L1517.68 146.16 L1492.95 146.16 L1492.95 158.67 L1468.22 158.67 L1468.22 183.68 L1443.48 183.68 L1443.48 213.57 L1418.75 213.57 L1418.75 257.36 L1394.02 257.36 L1394.02 313.3 L1369.28 313.3 L1369.28 368.21 L1344.55 368.21 L1344.55 421.03 L1319.82 421.03 L1319.82 467.25 L1295.08 467.25 L1295.08 506.44 L1270.35 506.44 L1270.35 541.61 L1245.62 541.61 L1245.62 574.28 L1220.88 574.28 L1220.88 603.46 L1196.15 603.46 L1196.15 632.66 L1171.42 632.66 L1171.42 660.11 L1146.68 660.11 L1146.68 682 L1121.95 682 L1121.95 696.46 L1097.22 696.46 L1097.22 701.32 L1072.48 701.32 L1072.48 706.32 L1047.75 706.32 L1047.75 708.06 L1023.02 708.06 L1023.02 708.84 L998.28 708.84 Z" fill="#c54534" stroke="#c54534" stroke-width="7.6" stroke-linejoin="round"/>
</g>
<rect x="1517.5" y="561.6" width="236" height="149.8" rx="6" ry="6" fill="#fff" fill-opacity="0.85" stroke="#cfcfcf" stroke-width="2"/>
<line x1="1525.7" y1="588.6" x2="1599" y2="588.6" stroke="#2b2f8a" stroke-width="11"/>
<text x="1618.1" y="595.9" font-size="30.5">on-swirl</text>
<line x1="1525.7" y1="635.1" x2="1599" y2="635.1" stroke="#f0dc2e" stroke-width="11"/>
<text x="1618.1" y="642.4" font-size="30.5">diffuse</text>
<line x1="1525.7" y1="681.6" x2="1599" y2="681.6" stroke="#c54534" stroke-width="11"/>
<text x="1618.1" y="688.9" font-size="30.5">off-swirl</text>
<rect x="1026.2" y="3.6" width="742" height="722.3" fill="none" stroke="#262626" stroke-width="2"/>
<text x="1025.2" y="756.3" font-size="30.5" text-anchor="middle">−1920</text>
<text x="1148.87" y="756.3" font-size="30.5" text-anchor="middle">−1915</text>
<text x="1272.53" y="756.3" font-size="30.5" text-anchor="middle">−1910</text>
<text x="1396.2" y="756.3" font-size="30.5" text-anchor="middle">−1905</text>
<text x="1519.87" y="756.3" font-size="30.5" text-anchor="middle">−1900</text>
<text x="1643.53" y="756.3" font-size="30.5" text-anchor="middle">−1895</text>
<text x="1767.2" y="756.3" font-size="30.5" text-anchor="middle">−1890</text>
<text x="1016.8" y="722.6" font-size="30.5" text-anchor="end">0.0</text>
<text x="1016.8" y="585.1" font-size="30.5" text-anchor="end">0.2</text>
<text x="1016.8" y="445.2" font-size="30.5" text-anchor="end">0.4</text>
<text x="1016.8" y="305.2" font-size="30.5" text-anchor="end">0.6</text>
<text x="1016.8" y="166.1" font-size="30.5" text-anchor="end">0.8</text>
<text x="1016.8" y="28.6" font-size="30.5" text-anchor="end">1.0</text>
<text x="1397.2" y="798" font-size="36" text-anchor="middle">Height (m)</text>
<text x="1050.2" y="51.1" font-size="35.6">K-Means</text>
<clipPath id="cbp0"><rect x="136.7" y="843.8" width="751.9" height="615"/></clipPath>
<clipPath id="hb0"><path d="M143.7 1458.6 V1448.04 H188.13 V1458.6 Z M188.13 1458.6 V1436.64 H232.56 V1458.6 Z M232.56 1458.6 V1324.91 H276.99 V1458.6 Z M276.99 1458.6 V1179.18 H321.42 V1458.6 Z M321.42 1458.6 V988.26 H365.85 V1458.6 Z M365.85 1458.6 V1197.35 H410.28 V1458.6 Z M410.28 1458.6 V883.29 H454.71 V1458.6 Z M454.71 1458.6 V871.46 H499.14 V1458.6 Z M499.14 1458.6 V1004.52 H543.57 V1458.6 Z M543.57 1458.6 V1007.69 H588 V1458.6 Z M588 1458.6 V1261.76 H632.43 V1458.6 Z M632.43 1458.6 V1204.1 H676.86 V1458.6 Z M676.86 1458.6 V1316.88 H721.29 V1458.6 Z M721.29 1458.6 V1398.41 H765.72 V1458.6 Z M765.72 1458.6 V1437.48 H810.15 V1458.6 Z M810.15 1458.6 V1437.48 H854.58 V1458.6 Z M854.58 1458.6 V1452.26 H899.01 V1458.6 Z"/></clipPath>
<clipPath id="hy0"><path d="M100.85 1458.6 V1453.32 H147.52 V1458.6 Z M147.52 1458.6 V1438.75 H194.19 V1458.6 Z M194.19 1458.6 V1365.46 H240.86 V1458.6 Z M240.86 1458.6 V1232.62 H287.53 V1458.6 Z M287.53 1458.6 V1319.63 H334.2 V1458.6 Z M334.2 1458.6 V1147.71 H380.87 V1458.6 Z M380.87 1458.6 V1091.11 H427.54 V1458.6 Z M427.54 1458.6 V1119.2 H474.21 V1458.6 Z M474.21 1458.6 V1081.19 H520.88 V1458.6 Z M520.88 1458.6 V1056.05 H567.55 V1458.6 Z M567.55 1458.6 V1042.96 H614.22 V1458.6 Z M614.22 1458.6 V1244.23 H660.89 V1458.6 Z M660.89 1458.6 V1179.18 H707.56 V1458.6 Z M707.56 1458.6 V1323.22 H754.23 V1458.6 Z M754.23 1458.6 V1381.51 H800.9 V1458.6 Z M800.9 1458.6 V1408.33 H847.57 V1458.6 Z M847.57 1458.6 V1433.26 H894.24 V1458.6 Z"/></clipPath>
<g clip-path="url(#cbp0)">
<path d="M143.7 1458.6 V1448.04 H188.13 V1458.6 Z M188.13 1458.6 V1436.64 H232.56 V1458.6 Z M232.56 1458.6 V1324.91 H276.99 V1458.6 Z M276.99 1458.6 V1179.18 H321.42 V1458.6 Z M321.42 1458.6 V988.26 H365.85 V1458.6 Z M365.85 1458.6 V1197.35 H410.28 V1458.6 Z M410.28 1458.6 V883.29 H454.71 V1458.6 Z M454.71 1458.6 V871.46 H499.14 V1458.6 Z M499.14 1458.6 V1004.52 H543.57 V1458.6 Z M543.57 1458.6 V1007.69 H588 V1458.6 Z M588 1458.6 V1261.76 H632.43 V1458.6 Z M632.43 1458.6 V1204.1 H676.86 V1458.6 Z M676.86 1458.6 V1316.88 H721.29 V1458.6 Z M721.29 1458.6 V1398.41 H765.72 V1458.6 Z M765.72 1458.6 V1437.48 H810.15 V1458.6 Z M810.15 1458.6 V1437.48 H854.58 V1458.6 Z M854.58 1458.6 V1452.26 H899.01 V1458.6 Z" fill="#2b2f8a"/>
<path d="M100.85 1458.6 V1453.32 H147.52 V1458.6 Z M147.52 1458.6 V1438.75 H194.19 V1458.6 Z M194.19 1458.6 V1365.46 H240.86 V1458.6 Z M240.86 1458.6 V1232.62 H287.53 V1458.6 Z M287.53 1458.6 V1319.63 H334.2 V1458.6 Z M334.2 1458.6 V1147.71 H380.87 V1458.6 Z M380.87 1458.6 V1091.11 H427.54 V1458.6 Z M427.54 1458.6 V1119.2 H474.21 V1458.6 Z M474.21 1458.6 V1081.19 H520.88 V1458.6 Z M520.88 1458.6 V1056.05 H567.55 V1458.6 Z M567.55 1458.6 V1042.96 H614.22 V1458.6 Z M614.22 1458.6 V1244.23 H660.89 V1458.6 Z M660.89 1458.6 V1179.18 H707.56 V1458.6 Z M707.56 1458.6 V1323.22 H754.23 V1458.6 Z M754.23 1458.6 V1381.51 H800.9 V1458.6 Z M800.9 1458.6 V1408.33 H847.57 V1458.6 Z M847.57 1458.6 V1433.26 H894.24 V1458.6 Z" fill="#f2e44e"/>
<g clip-path="url(#hb0)"><path d="M100.85 1458.6 V1453.32 H147.52 V1458.6 Z M147.52 1458.6 V1438.75 H194.19 V1458.6 Z M194.19 1458.6 V1365.46 H240.86 V1458.6 Z M240.86 1458.6 V1232.62 H287.53 V1458.6 Z M287.53 1458.6 V1319.63 H334.2 V1458.6 Z M334.2 1458.6 V1147.71 H380.87 V1458.6 Z M380.87 1458.6 V1091.11 H427.54 V1458.6 Z M427.54 1458.6 V1119.2 H474.21 V1458.6 Z M474.21 1458.6 V1081.19 H520.88 V1458.6 Z M520.88 1458.6 V1056.05 H567.55 V1458.6 Z M567.55 1458.6 V1042.96 H614.22 V1458.6 Z M614.22 1458.6 V1244.23 H660.89 V1458.6 Z M660.89 1458.6 V1179.18 H707.56 V1458.6 Z M707.56 1458.6 V1323.22 H754.23 V1458.6 Z M754.23 1458.6 V1381.51 H800.9 V1458.6 Z M800.9 1458.6 V1408.33 H847.57 V1458.6 Z M847.57 1458.6 V1433.26 H894.24 V1458.6 Z" fill="#a5a232"/></g>
<path d="M129.2 1458.6 V1453.11 H176.88 V1458.6 Z M176.88 1458.6 V1437.48 H224.56 V1458.6 Z M224.56 1458.6 V1372.01 H272.24 V1458.6 Z M272.24 1458.6 V1318.79 H319.92 V1458.6 Z M319.92 1458.6 V1300.41 H367.6 V1458.6 Z M367.6 1458.6 V1255.43 H415.28 V1458.6 Z M415.28 1458.6 V1172.42 H462.96 V1458.6 Z M462.96 1458.6 V1302.1 H510.64 V1458.6 Z M510.64 1458.6 V1200.72 H558.32 V1458.6 Z M558.32 1458.6 V1341.81 H606 V1458.6 Z M606 1458.6 V1389.75 H653.68 V1458.6 Z M653.68 1458.6 V1385.52 H701.36 V1458.6 Z M701.36 1458.6 V1397.14 H749.04 V1458.6 Z M749.04 1458.6 V1373.49 H796.72 V1458.6 Z M796.72 1458.6 V1403.48 H844.4 V1458.6 Z M844.4 1458.6 V1441.92 H892.08 V1458.6 Z" fill="#dc9a8c"/>
<g clip-path="url(#hy0)"><path d="M129.2 1458.6 V1453.11 H176.88 V1458.6 Z M176.88 1458.6 V1437.48 H224.56 V1458.6 Z M224.56 1458.6 V1372.01 H272.24 V1458.6 Z M272.24 1458.6 V1318.79 H319.92 V1458.6 Z M319.92 1458.6 V1300.41 H367.6 V1458.6 Z M367.6 1458.6 V1255.43 H415.28 V1458.6 Z M415.28 1458.6 V1172.42 H462.96 V1458.6 Z M462.96 1458.6 V1302.1 H510.64 V1458.6 Z M510.64 1458.6 V1200.72 H558.32 V1458.6 Z M558.32 1458.6 V1341.81 H606 V1458.6 Z M606 1458.6 V1389.75 H653.68 V1458.6 Z M653.68 1458.6 V1385.52 H701.36 V1458.6 Z M701.36 1458.6 V1397.14 H749.04 V1458.6 Z M749.04 1458.6 V1373.49 H796.72 V1458.6 Z M796.72 1458.6 V1403.48 H844.4 V1458.6 Z M844.4 1458.6 V1441.92 H892.08 V1458.6 Z" fill="#d48e40"/></g>
<g clip-path="url(#hb0)"><path d="M129.2 1458.6 V1453.11 H176.88 V1458.6 Z M176.88 1458.6 V1437.48 H224.56 V1458.6 Z M224.56 1458.6 V1372.01 H272.24 V1458.6 Z M272.24 1458.6 V1318.79 H319.92 V1458.6 Z M319.92 1458.6 V1300.41 H367.6 V1458.6 Z M367.6 1458.6 V1255.43 H415.28 V1458.6 Z M415.28 1458.6 V1172.42 H462.96 V1458.6 Z M462.96 1458.6 V1302.1 H510.64 V1458.6 Z M510.64 1458.6 V1200.72 H558.32 V1458.6 Z M558.32 1458.6 V1341.81 H606 V1458.6 Z M606 1458.6 V1389.75 H653.68 V1458.6 Z M653.68 1458.6 V1385.52 H701.36 V1458.6 Z M701.36 1458.6 V1397.14 H749.04 V1458.6 Z M749.04 1458.6 V1373.49 H796.72 V1458.6 Z M796.72 1458.6 V1403.48 H844.4 V1458.6 Z M844.4 1458.6 V1441.92 H892.08 V1458.6 Z" fill="#6a3558"/>
<g clip-path="url(#hy0)"><path d="M129.2 1458.6 V1453.11 H176.88 V1458.6 Z M176.88 1458.6 V1437.48 H224.56 V1458.6 Z M224.56 1458.6 V1372.01 H272.24 V1458.6 Z M272.24 1458.6 V1318.79 H319.92 V1458.6 Z M319.92 1458.6 V1300.41 H367.6 V1458.6 Z M367.6 1458.6 V1255.43 H415.28 V1458.6 Z M415.28 1458.6 V1172.42 H462.96 V1458.6 Z M462.96 1458.6 V1302.1 H510.64 V1458.6 Z M510.64 1458.6 V1200.72 H558.32 V1458.6 Z M558.32 1458.6 V1341.81 H606 V1458.6 Z M606 1458.6 V1389.75 H653.68 V1458.6 Z M653.68 1458.6 V1385.52 H701.36 V1458.6 Z M701.36 1458.6 V1397.14 H749.04 V1458.6 Z M749.04 1458.6 V1373.49 H796.72 V1458.6 Z M796.72 1458.6 V1403.48 H844.4 V1458.6 Z M844.4 1458.6 V1441.92 H892.08 V1458.6 Z" fill="#b06e32"/></g></g>
<path d="M77.05 1452.14 L121.48 1441.94 L165.91 1420.27 L210.34 1379.94 L254.77 1314.57 L299.2 1223.28 L343.63 1115.57 L388.06 1012.43 L432.5 940.82 L476.93 922.46 L521.36 963.27 L565.78 1050.29 L610.21 1158.28 L654.64 1261.52 L699.08 1343.2 L743.5 1398.31 L787.93 1430.5 L832.37 1446.91 L876.8 1454.26 L921.22 1457.16 L965.65 1458.18 L1010.09 1458.49" fill="none" stroke="#fff" stroke-opacity="0.92" stroke-width="6.9" stroke-dasharray="18.5 8" stroke-dashoffset="0" stroke-linejoin="round"/>
<path d="M77.05 1452.14 L121.48 1441.94 L165.91 1420.27 L210.34 1379.94 L254.77 1314.57 L299.2 1223.28 L343.63 1115.57 L388.06 1012.43 L432.5 940.82 L476.93 922.46 L521.36 963.27 L565.78 1050.29 L610.21 1158.28 L654.64 1261.52 L699.08 1343.2 L743.5 1398.31 L787.93 1430.5 L832.37 1446.91 L876.8 1454.26 L921.22 1457.16 L965.65 1458.18 L1010.09 1458.49" fill="none" stroke="#4f5aa8" stroke-width="5.1" stroke-dasharray="18.5 8" stroke-dashoffset="0" stroke-linejoin="round"/>
<path d="M30.84 1451.97 L77.51 1444.21 L124.19 1429.79 L170.85 1405.42 L217.53 1368.03 L264.19 1316.33 L310.87 1252.48 L357.53 1183.15 L404.21 1119.09 L450.88 1072.62 L497.54 1053.85 L544.22 1067.13 L590.88 1109.37 L637.56 1171.24 L684.23 1240.5 L730.9 1305.92 L777.57 1360.02 L824.24 1399.89 L870.91 1426.35 L917.58 1442.26 L964.25 1450.96 L1010.92 1455.31" fill="none" stroke="#fff" stroke-opacity="0.92" stroke-width="6.9" stroke-dasharray="18.5 8" stroke-dashoffset="0" stroke-linejoin="round"/>
<path d="M30.84 1451.97 L77.51 1444.21 L124.19 1429.79 L170.85 1405.42 L217.53 1368.03 L264.19 1316.33 L310.87 1252.48 L357.53 1183.15 L404.21 1119.09 L450.88 1072.62 L497.54 1053.85 L544.22 1067.13 L590.88 1109.37 L637.56 1171.24 L684.23 1240.5 L730.9 1305.92 L777.57 1360.02 L824.24 1399.89 L870.91 1426.35 L917.58 1442.26 L964.25 1450.96 L1010.92 1455.31" fill="none" stroke="#f0e040" stroke-width="5.1" stroke-dasharray="18.5 8" stroke-dashoffset="0" stroke-linejoin="round"/>
<path d="M57.68 1453.44 L105.36 1446.46 L153.04 1433 L200.72 1410.2 L248.4 1376.55 L296.08 1333.88 L343.76 1288.62 L391.44 1250.87 L439.12 1230.98 L486.8 1234.96 L534.48 1261.57 L582.16 1302.96 L629.84 1348.36 L677.52 1388.58 L725.2 1418.73 L772.88 1438.24 L820.56 1449.28 L868.24 1454.77 L915.92 1457.19 L963.6 1458.13 L1011.28 1458.46" fill="none" stroke="#fff" stroke-opacity="0.92" stroke-width="6.9" stroke-dasharray="18.5 8" stroke-dashoffset="0" stroke-linejoin="round"/>
<path d="M57.68 1453.44 L105.36 1446.46 L153.04 1433 L200.72 1410.2 L248.4 1376.55 L296.08 1333.88 L343.76 1288.62 L391.44 1250.87 L439.12 1230.98 L486.8 1234.96 L534.48 1261.57 L582.16 1302.96 L629.84 1348.36 L677.52 1388.58 L725.2 1418.73 L772.88 1438.24 L820.56 1449.28 L868.24 1454.77 L915.92 1457.19 L963.6 1458.13 L1011.28 1458.46" fill="none" stroke="#dc6f5e" stroke-width="5.1" stroke-dasharray="18.5 8" stroke-dashoffset="0" stroke-linejoin="round"/>
</g>
<rect x="640.5" y="855" width="237" height="146.8" rx="5" ry="5" fill="#fff" fill-opacity="0.85" stroke="#d0d0d0" stroke-width="1.5"/>
<rect x="650.2" y="866.15" width="46.6" height="14.9" fill="#2b2f8a"/>
<text x="715.5" y="881" font-size="23.3">on-swirl</text>
<rect x="650.2" y="901.05" width="46.6" height="14.9" fill="#f2e44e"/>
<text x="715.5" y="915.9" font-size="23.3">diffuse</text>
<rect x="650.2" y="935.95" width="46.6" height="14.9" fill="#dc9a8c"/>
<text x="715.5" y="950.8" font-size="23.3">off-swirl</text>
<line x1="650.2" y1="980.1" x2="696.8" y2="980.1" stroke="#cccccc" stroke-width="5" stroke-dasharray="18.5 8"/>
<text x="715.5" y="985.7" font-size="23.3">Gaussian fits</text>
<rect x="136.7" y="843.8" width="751.9" height="615" fill="none" stroke="#3c3c3c" stroke-width="2"/>
<text x="136.7" y="1488.5" font-size="22.9" text-anchor="middle">−1920</text>
<text x="262.02" y="1488.5" font-size="22.9" text-anchor="middle">−1915</text>
<text x="387.33" y="1488.5" font-size="22.9" text-anchor="middle">−1910</text>
<text x="512.65" y="1488.5" font-size="22.9" text-anchor="middle">−1905</text>
<text x="637.97" y="1488.5" font-size="22.9" text-anchor="middle">−1900</text>
<text x="763.28" y="1488.5" font-size="22.9" text-anchor="middle">−1895</text>
<text x="888.6" y="1488.5" font-size="22.9" text-anchor="middle">−1890</text>
<text x="125" y="1466.6" font-size="22.9" text-anchor="end">0</text>
<text x="125" y="1361" font-size="22.9" text-anchor="end">50000</text>
<text x="125" y="1255.4" font-size="22.9" text-anchor="end">100000</text>
<text x="125" y="1149.8" font-size="22.9" text-anchor="end">150000</text>
<text x="125" y="1044.2" font-size="22.9" text-anchor="end">200000</text>
<text x="125" y="938.6" font-size="22.9" text-anchor="end">250000</text>
<path d="M136.7 1458.8 v6.8 M262.02 1458.8 v6.8 M387.33 1458.8 v6.8 M512.65 1458.8 v6.8 M637.97 1458.8 v6.8 M763.28 1458.8 v6.8 M888.6 1458.8 v6.8 M136.7 1458.6 h-6.8 M136.7 1353 h-6.8 M136.7 1247.4 h-6.8 M136.7 1141.8 h-6.8 M136.7 1036.2 h-6.8 M136.7 930.6 h-6.8" stroke="#3c3c3c" stroke-width="1.7" fill="none"/>
<text x="512.65" y="1520.8" font-size="26.8" text-anchor="middle">Height (m)</text>
<text transform="translate(23.2 1151.3) rotate(-90)" font-size="26.8" text-anchor="middle">Number of points</text>
<text x="185.8" y="886.2" font-size="26.8">MLC</text>
<clipPath id="cbp1"><rect x="1030.4" y="843.7" width="751.9" height="615.1"/></clipPath>
<clipPath id="hb1"><path d="M1060.6 1458.3 V1432.22 H1106.15 V1458.3 Z M1106.15 1458.3 V1408.55 H1151.7 V1458.3 Z M1151.7 1458.3 V1257.43 H1197.25 V1458.3 Z M1197.25 1458.3 V1045 H1242.8 V1458.3 Z M1242.8 1458.3 V931.79 H1288.35 V1458.3 Z M1288.35 1458.3 V875.06 H1333.9 V1458.3 Z M1333.9 1458.3 V1158.75 H1379.45 V1458.3 Z M1379.45 1458.3 V919.69 H1425 V1458.3 Z M1425 1458.3 V1059.52 H1470.55 V1458.3 Z M1470.55 1458.3 V1072.7 H1516.1 V1458.3 Z M1516.1 1458.3 V1229.73 H1561.65 V1458.3 Z M1561.65 1458.3 V1346.98 H1607.2 V1458.3 Z M1607.2 1458.3 V1428.18 H1652.75 V1458.3 Z M1652.75 1458.3 V1428.72 H1698.3 V1458.3 Z M1698.3 1458.3 V1439.21 H1743.85 V1458.3 Z M1743.85 1458.3 V1450.23 H1789.4 V1458.3 Z"/></clipPath>
<clipPath id="hy1"><path d="M995.3 1458.3 V1453.73 H1041.75 V1458.3 Z M1041.75 1458.3 V1441.36 H1088.2 V1458.3 Z M1088.2 1458.3 V1353.7 H1134.65 V1458.3 Z M1134.65 1458.3 V1195.58 H1181.1 V1458.3 Z M1181.1 1458.3 V1289.43 H1227.55 V1458.3 Z M1227.55 1458.3 V1057.91 H1274 V1458.3 Z M1274 1458.3 V964.87 H1320.45 V1458.3 Z M1320.45 1458.3 V1004.4 H1366.9 V1458.3 Z M1366.9 1458.3 V974.82 H1413.35 V1458.3 Z M1413.35 1458.3 V913.51 H1459.8 V1458.3 Z M1459.8 1458.3 V871.56 H1506.25 V1458.3 Z M1506.25 1458.3 V1184.29 H1552.7 V1458.3 Z M1552.7 1458.3 V1089.37 H1599.15 V1458.3 Z M1599.15 1458.3 V1280.29 H1645.6 V1458.3 Z M1645.6 1458.3 V1355.58 H1692.05 V1458.3 Z M1692.05 1458.3 V1399.95 H1738.5 V1458.3 Z M1738.5 1458.3 V1435.44 H1784.95 V1458.3 Z"/></clipPath>
<g clip-path="url(#cbp1)">
<path d="M1060.6 1458.3 V1432.22 H1106.15 V1458.3 Z M1106.15 1458.3 V1408.55 H1151.7 V1458.3 Z M1151.7 1458.3 V1257.43 H1197.25 V1458.3 Z M1197.25 1458.3 V1045 H1242.8 V1458.3 Z M1242.8 1458.3 V931.79 H1288.35 V1458.3 Z M1288.35 1458.3 V875.06 H1333.9 V1458.3 Z M1333.9 1458.3 V1158.75 H1379.45 V1458.3 Z M1379.45 1458.3 V919.69 H1425 V1458.3 Z M1425 1458.3 V1059.52 H1470.55 V1458.3 Z M1470.55 1458.3 V1072.7 H1516.1 V1458.3 Z M1516.1 1458.3 V1229.73 H1561.65 V1458.3 Z M1561.65 1458.3 V1346.98 H1607.2 V1458.3 Z M1607.2 1458.3 V1428.18 H1652.75 V1458.3 Z M1652.75 1458.3 V1428.72 H1698.3 V1458.3 Z M1698.3 1458.3 V1439.21 H1743.85 V1458.3 Z M1743.85 1458.3 V1450.23 H1789.4 V1458.3 Z" fill="#2b2f8a"/>
<path d="M995.3 1458.3 V1453.73 H1041.75 V1458.3 Z M1041.75 1458.3 V1441.36 H1088.2 V1458.3 Z M1088.2 1458.3 V1353.7 H1134.65 V1458.3 Z M1134.65 1458.3 V1195.58 H1181.1 V1458.3 Z M1181.1 1458.3 V1289.43 H1227.55 V1458.3 Z M1227.55 1458.3 V1057.91 H1274 V1458.3 Z M1274 1458.3 V964.87 H1320.45 V1458.3 Z M1320.45 1458.3 V1004.4 H1366.9 V1458.3 Z M1366.9 1458.3 V974.82 H1413.35 V1458.3 Z M1413.35 1458.3 V913.51 H1459.8 V1458.3 Z M1459.8 1458.3 V871.56 H1506.25 V1458.3 Z M1506.25 1458.3 V1184.29 H1552.7 V1458.3 Z M1552.7 1458.3 V1089.37 H1599.15 V1458.3 Z M1599.15 1458.3 V1280.29 H1645.6 V1458.3 Z M1645.6 1458.3 V1355.58 H1692.05 V1458.3 Z M1692.05 1458.3 V1399.95 H1738.5 V1458.3 Z M1738.5 1458.3 V1435.44 H1784.95 V1458.3 Z" fill="#f2e44e"/>
<g clip-path="url(#hb1)"><path d="M995.3 1458.3 V1453.73 H1041.75 V1458.3 Z M1041.75 1458.3 V1441.36 H1088.2 V1458.3 Z M1088.2 1458.3 V1353.7 H1134.65 V1458.3 Z M1134.65 1458.3 V1195.58 H1181.1 V1458.3 Z M1181.1 1458.3 V1289.43 H1227.55 V1458.3 Z M1227.55 1458.3 V1057.91 H1274 V1458.3 Z M1274 1458.3 V964.87 H1320.45 V1458.3 Z M1320.45 1458.3 V1004.4 H1366.9 V1458.3 Z M1366.9 1458.3 V974.82 H1413.35 V1458.3 Z M1413.35 1458.3 V913.51 H1459.8 V1458.3 Z M1459.8 1458.3 V871.56 H1506.25 V1458.3 Z M1506.25 1458.3 V1184.29 H1552.7 V1458.3 Z M1552.7 1458.3 V1089.37 H1599.15 V1458.3 Z M1599.15 1458.3 V1280.29 H1645.6 V1458.3 Z M1645.6 1458.3 V1355.58 H1692.05 V1458.3 Z M1692.05 1458.3 V1399.95 H1738.5 V1458.3 Z M1738.5 1458.3 V1435.44 H1784.95 V1458.3 Z" fill="#a5a232"/></g>
<path d="M995.3 1458.3 V1453.73 H1041.75 V1458.3 Z M1041.75 1458.3 V1433.29 H1088.2 V1458.3 Z M1088.2 1458.3 V1361.5 H1134.65 V1458.3 Z M1134.65 1458.3 V1222.74 H1181.1 V1458.3 Z M1181.1 1458.3 V1322.24 H1227.55 V1458.3 Z M1227.55 1458.3 V1166.27 H1274 V1458.3 Z M1274 1458.3 V1092.6 H1320.45 V1458.3 Z M1320.45 1458.3 V975.09 H1366.9 V1458.3 Z M1366.9 1458.3 V923.73 H1413.35 V1458.3 Z M1413.35 1458.3 V1107.39 H1459.8 V1458.3 Z M1459.8 1458.3 V1267.38 H1506.25 V1458.3 Z M1506.25 1458.3 V1364.18 H1552.7 V1458.3 Z M1552.7 1458.3 V1293.46 H1599.15 V1458.3 Z M1599.15 1458.3 V1344.02 H1645.6 V1458.3 Z M1645.6 1458.3 V1332.19 H1692.05 V1458.3 Z M1692.05 1458.3 V1373.87 H1738.5 V1458.3 Z M1738.5 1458.3 V1428.18 H1784.95 V1458.3 Z" fill="#dc9a8c"/>
<g clip-path="url(#hy1)"><path d="M995.3 1458.3 V1453.73 H1041.75 V1458.3 Z M1041.75 1458.3 V1433.29 H1088.2 V1458.3 Z M1088.2 1458.3 V1361.5 H1134.65 V1458.3 Z M1134.65 1458.3 V1222.74 H1181.1 V1458.3 Z M1181.1 1458.3 V1322.24 H1227.55 V1458.3 Z M1227.55 1458.3 V1166.27 H1274 V1458.3 Z M1274 1458.3 V1092.6 H1320.45 V1458.3 Z M1320.45 1458.3 V975.09 H1366.9 V1458.3 Z M1366.9 1458.3 V923.73 H1413.35 V1458.3 Z M1413.35 1458.3 V1107.39 H1459.8 V1458.3 Z M1459.8 1458.3 V1267.38 H1506.25 V1458.3 Z M1506.25 1458.3 V1364.18 H1552.7 V1458.3 Z M1552.7 1458.3 V1293.46 H1599.15 V1458.3 Z M1599.15 1458.3 V1344.02 H1645.6 V1458.3 Z M1645.6 1458.3 V1332.19 H1692.05 V1458.3 Z M1692.05 1458.3 V1373.87 H1738.5 V1458.3 Z M1738.5 1458.3 V1428.18 H1784.95 V1458.3 Z" fill="#d48e40"/></g>
<g clip-path="url(#hb1)"><path d="M995.3 1458.3 V1453.73 H1041.75 V1458.3 Z M1041.75 1458.3 V1433.29 H1088.2 V1458.3 Z M1088.2 1458.3 V1361.5 H1134.65 V1458.3 Z M1134.65 1458.3 V1222.74 H1181.1 V1458.3 Z M1181.1 1458.3 V1322.24 H1227.55 V1458.3 Z M1227.55 1458.3 V1166.27 H1274 V1458.3 Z M1274 1458.3 V1092.6 H1320.45 V1458.3 Z M1320.45 1458.3 V975.09 H1366.9 V1458.3 Z M1366.9 1458.3 V923.73 H1413.35 V1458.3 Z M1413.35 1458.3 V1107.39 H1459.8 V1458.3 Z M1459.8 1458.3 V1267.38 H1506.25 V1458.3 Z M1506.25 1458.3 V1364.18 H1552.7 V1458.3 Z M1552.7 1458.3 V1293.46 H1599.15 V1458.3 Z M1599.15 1458.3 V1344.02 H1645.6 V1458.3 Z M1645.6 1458.3 V1332.19 H1692.05 V1458.3 Z M1692.05 1458.3 V1373.87 H1738.5 V1458.3 Z M1738.5 1458.3 V1428.18 H1784.95 V1458.3 Z" fill="#6a3558"/>
<g clip-path="url(#hy1)"><path d="M995.3 1458.3 V1453.73 H1041.75 V1458.3 Z M1041.75 1458.3 V1433.29 H1088.2 V1458.3 Z M1088.2 1458.3 V1361.5 H1134.65 V1458.3 Z M1134.65 1458.3 V1222.74 H1181.1 V1458.3 Z M1181.1 1458.3 V1322.24 H1227.55 V1458.3 Z M1227.55 1458.3 V1166.27 H1274 V1458.3 Z M1274 1458.3 V1092.6 H1320.45 V1458.3 Z M1320.45 1458.3 V975.09 H1366.9 V1458.3 Z M1366.9 1458.3 V923.73 H1413.35 V1458.3 Z M1413.35 1458.3 V1107.39 H1459.8 V1458.3 Z M1459.8 1458.3 V1267.38 H1506.25 V1458.3 Z M1506.25 1458.3 V1364.18 H1552.7 V1458.3 Z M1552.7 1458.3 V1293.46 H1599.15 V1458.3 Z M1599.15 1458.3 V1344.02 H1645.6 V1458.3 Z M1645.6 1458.3 V1332.19 H1692.05 V1458.3 Z M1692.05 1458.3 V1373.87 H1738.5 V1458.3 Z M1738.5 1458.3 V1428.18 H1784.95 V1458.3 Z" fill="#b06e32"/></g></g>
<path d="M946.72 1451.57 L992.27 1441.3 L1037.83 1419.81 L1083.38 1380.32 L1128.92 1316.84 L1174.47 1228.54 L1220.02 1124.19 L1265.57 1023.33 L1311.12 951.3 L1356.67 929.22 L1402.22 963.98 L1447.77 1044.81 L1493.32 1148.63 L1538.88 1250.67 L1584.42 1333.66 L1629.97 1391.31 L1675.52 1426.06 L1721.07 1444.41 L1766.62 1452.94 L1812.17 1456.45 L1857.72 1457.73 L1903.27 1458.14" fill="none" stroke="#fff" stroke-opacity="0.92" stroke-width="6.9" stroke-dasharray="18.5 8" stroke-dashoffset="0" stroke-linejoin="round"/>
<path d="M946.72 1451.57 L992.27 1441.3 L1037.83 1419.81 L1083.38 1380.32 L1128.92 1316.84 L1174.47 1228.54 L1220.02 1124.19 L1265.57 1023.33 L1311.12 951.3 L1356.67 929.22 L1402.22 963.98 L1447.77 1044.81 L1493.32 1148.63 L1538.88 1250.67 L1584.42 1333.66 L1629.97 1391.31 L1675.52 1426.06 L1721.07 1444.41 L1766.62 1452.94 L1812.17 1456.45 L1857.72 1457.73 L1903.27 1458.14" fill="none" stroke="#4f5aa8" stroke-width="5.1" stroke-dasharray="18.5 8" stroke-dashoffset="0" stroke-linejoin="round"/>
<path d="M925.62 1451.61 L972.07 1443.03 L1018.52 1426.31 L1064.97 1396.76 L1111.42 1349.63 L1157.88 1282.14 L1204.33 1196.16 L1250.78 1100.21 L1297.22 1009.27 L1343.67 941.41 L1390.12 912.11 L1436.58 928.49 L1483.03 986.53 L1529.47 1072.67 L1575.92 1168.94 L1622.38 1258.99 L1668.83 1332.27 L1715.28 1385.15 L1761.72 1419.32 L1808.17 1439.23 L1854.62 1449.74 L1901.08 1454.77" fill="none" stroke="#fff" stroke-opacity="0.92" stroke-width="6.9" stroke-dasharray="18.5 8" stroke-dashoffset="0" stroke-linejoin="round"/>
<path d="M925.62 1451.61 L972.07 1443.03 L1018.52 1426.31 L1064.97 1396.76 L1111.42 1349.63 L1157.88 1282.14 L1204.33 1196.16 L1250.78 1100.21 L1297.22 1009.27 L1343.67 941.41 L1390.12 912.11 L1436.58 928.49 L1483.03 986.53 L1529.47 1072.67 L1575.92 1168.94 L1622.38 1258.99 L1668.83 1332.27 L1715.28 1385.15 L1761.72 1419.32 L1808.17 1439.23 L1854.62 1449.74 L1901.08 1454.77" fill="none" stroke="#f0e040" stroke-width="5.1" stroke-dasharray="18.5 8" stroke-dashoffset="0" stroke-linejoin="round"/>
<path d="M925.62 1456.36 L972.07 1452.43 L1018.52 1442.64 L1064.97 1421.45 L1111.42 1381.88 L1157.88 1318.59 L1204.33 1233.13 L1250.78 1138.38 L1297.22 1057.59 L1343.67 1015.83 L1390.12 1027.59 L1436.58 1088.69 L1483.03 1178.69 L1529.47 1271.82 L1575.92 1348.66 L1622.38 1401.47 L1668.83 1432.34 L1715.28 1447.84 L1761.72 1454.59 L1808.17 1457.14 L1854.62 1457.98 L1901.08 1458.22" fill="none" stroke="#fff" stroke-opacity="0.92" stroke-width="6.9" stroke-dasharray="18.5 8" stroke-dashoffset="0" stroke-linejoin="round"/>
<path d="M925.62 1456.36 L972.07 1452.43 L1018.52 1442.64 L1064.97 1421.45 L1111.42 1381.88 L1157.88 1318.59 L1204.33 1233.13 L1250.78 1138.38 L1297.22 1057.59 L1343.67 1015.83 L1390.12 1027.59 L1436.58 1088.69 L1483.03 1178.69 L1529.47 1271.82 L1575.92 1348.66 L1622.38 1401.47 L1668.83 1432.34 L1715.28 1447.84 L1761.72 1454.59 L1808.17 1457.14 L1854.62 1457.98 L1901.08 1458.22" fill="none" stroke="#dc6f5e" stroke-width="5.1" stroke-dasharray="18.5 8" stroke-dashoffset="0" stroke-linejoin="round"/>
</g>
<rect x="1534.5" y="855" width="237" height="146.8" rx="5" ry="5" fill="#fff" fill-opacity="0.85" stroke="#d0d0d0" stroke-width="1.5"/>
<rect x="1544.2" y="866.15" width="46.6" height="14.9" fill="#2b2f8a"/>
<text x="1609.5" y="881" font-size="23.3">on-swirl</text>
<rect x="1544.2" y="901.05" width="46.6" height="14.9" fill="#f2e44e"/>
<text x="1609.5" y="915.9" font-size="23.3">diffuse</text>
<rect x="1544.2" y="935.95" width="46.6" height="14.9" fill="#dc9a8c"/>
<text x="1609.5" y="950.8" font-size="23.3">off-swirl</text>
<line x1="1544.2" y1="980.1" x2="1590.8" y2="980.1" stroke="#cccccc" stroke-width="5" stroke-dasharray="18.5 8"/>
<text x="1609.5" y="985.7" font-size="23.3">Gaussian fits</text>
<rect x="1030.4" y="843.7" width="751.9" height="615.1" fill="none" stroke="#3c3c3c" stroke-width="2"/>
<text x="1030.4" y="1488.6" font-size="22.9" text-anchor="middle">−1920</text>
<text x="1155.72" y="1488.6" font-size="22.9" text-anchor="middle">−1915</text>
<text x="1281.03" y="1488.6" font-size="22.9" text-anchor="middle">−1910</text>
<text x="1406.35" y="1488.6" font-size="22.9" text-anchor="middle">−1905</text>
<text x="1531.67" y="1488.6" font-size="22.9" text-anchor="middle">−1900</text>
<text x="1656.98" y="1488.6" font-size="22.9" text-anchor="middle">−1895</text>
<text x="1782.3" y="1488.6" font-size="22.9" text-anchor="middle">−1890</text>
<text x="1019.3" y="1467.9" font-size="22.9" text-anchor="end">0</text>
<text x="1019.3" y="1333.45" font-size="22.9" text-anchor="end">50000</text>
<text x="1019.3" y="1199" font-size="22.9" text-anchor="end">100000</text>
<text x="1019.3" y="1064.55" font-size="22.9" text-anchor="end">150000</text>
<text x="1019.3" y="930.1" font-size="22.9" text-anchor="end">200000</text>
<path d="M1030.4 1458.8 v6.8 M1155.72 1458.8 v6.8 M1281.03 1458.8 v6.8 M1406.35 1458.8 v6.8 M1531.67 1458.8 v6.8 M1656.98 1458.8 v6.8 M1782.3 1458.8 v6.8 M1030.4 1458.3 h-6.8 M1030.4 1323.85 h-6.8 M1030.4 1189.4 h-6.8 M1030.4 1054.95 h-6.8 M1030.4 920.5 h-6.8" stroke="#3c3c3c" stroke-width="1.7" fill="none"/>
<text x="1406.35" y="1520.8" font-size="26.8" text-anchor="middle">Height (m)</text>
<text x="1081" y="871.4" font-size="26.8">K-means</text>
<ellipse cx="920.3" cy="1114.2" rx="1.1" ry="1.6" fill="#555"/>
</g>
</svg></body></html>
